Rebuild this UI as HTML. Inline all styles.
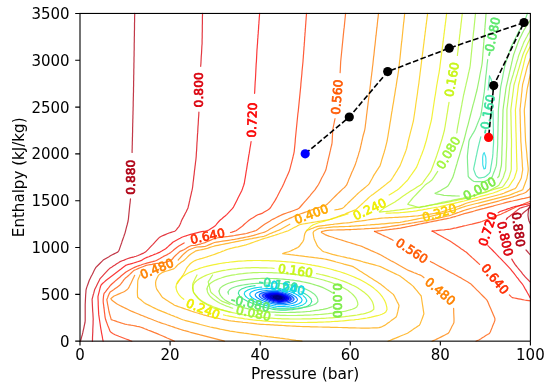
<!DOCTYPE html>
<html><head><meta charset="utf-8"><style>html,body{margin:0;padding:0;background:#fff;}svg{display:block;}</style></head>
<body><svg width="550" height="388" viewBox="0 0 550 388">
<rect width="550" height="388" fill="#fff"/>
<defs><radialGradient id="bc" cx="0.5" cy="0.5" r="0.5"><stop offset="0" stop-color="#0000a8"/><stop offset="0.55" stop-color="#0008e8"/><stop offset="1" stop-color="#0030ff" stop-opacity="0"/></radialGradient></defs>
<ellipse cx="277" cy="296.8" rx="19" ry="5.6" fill="url(#bc)" transform="rotate(7 277 296.8)"/>
<g fill="none" stroke-width="1.2" stroke-opacity="0.78" stroke-linejoin="round" stroke-linecap="round">
<path d="M134.7,13.3 L134.7,15.3 L134.6,17.3 L134.6,19.4 L134.6,21.4 L134.5,23.4 L134.5,25.4 L134.5,27.4 L134.5,29.5 L134.4,31.5 L134.4,33.5 L134.4,35.5 L134.3,37.5 L134.3,39.6 L134.3,41.6 L134.2,43.6 L134.2,45.6 L134.2,47.6 L134.2,49.7 L134.1,51.7 L134.1,53.7 L134.1,55.7 L134.0,57.7 L134.0,59.8 L134.0,61.8 L133.9,63.8 L133.9,65.8 L133.9,67.8 L133.8,69.8 L133.8,71.8 L133.8,73.9 L133.7,75.9 L133.7,77.9 L133.7,79.9 L133.6,81.9 L133.6,83.9 L133.6,86.0 L133.5,88.0 L133.5,90.0 L133.5,92.0 L133.4,94.0 L133.4,96.0 L133.3,98.0 L133.3,100.0 L133.2,102.0 L133.2,104.0 L133.2,106.0 L133.1,108.0 L133.1,110.0 L133.0,112.0 L133.0,114.0 L132.9,116.0 L132.9,118.0 L132.8,120.0 L132.8,122.0 L132.7,124.0 L132.7,126.0 L132.6,128.0 L132.6,130.0 L132.6,132.0 L132.5,134.1 L132.5,136.1 L132.4,138.1 L132.4,140.2 L132.3,142.2 L132.3,144.3 L132.2,146.3 L132.2,148.3 L132.1,150.4 L132.1,152.4" stroke="#af0014"/>
<path d="M130.5,198.8 L130.3,200.8 L130.1,202.8 L129.8,204.9 L129.6,206.9 L129.4,208.9 L129.2,210.9 L129.0,212.9 L128.8,214.9 L128.6,217.0 L128.4,219.0 L128.1,221.0 L127.6,223.0 L127.1,225.0 L126.5,227.1 L126.0,229.1 L125.5,231.1 L125.0,233.1 L124.3,235.0 L123.7,236.9 L123.0,238.8 L122.3,240.7 L121.7,242.7 L121.0,244.6 L120.3,246.6 L119.6,248.6 L118.9,250.6 L117.7,252.1 L115.9,253.0 L114.1,253.9 L112.3,254.8 L110.4,255.8 L108.6,256.9 L106.8,257.9 L105.0,259.0 L103.2,260.1 L101.7,261.6 L100.3,263.0 L98.8,264.5 L97.3,266.0 L95.9,267.4 L94.8,269.2 L93.9,271.0 L93.0,272.9 L92.1,274.7 L91.1,276.5 L90.2,278.4 L89.3,280.2 L88.6,282.2 L87.9,284.2 L87.2,286.1 L86.5,288.1 L86.0,290.1 L85.9,292.2 L85.7,294.2 L85.6,296.3 L85.5,298.3 L85.4,300.4 L85.3,302.5 L85.2,304.5 L85.2,306.5 L85.2,308.5 L85.2,310.5 L85.2,312.5 L85.2,314.5 L85.2,316.5 L85.2,318.5 L85.2,320.5 L85.0,322.5 L84.5,324.6 L84.1,326.6 L83.7,328.6 L83.2,330.7 L82.8,332.7 L82.3,334.7 L81.7,336.6 L81.2,338.6 L80.7,340.5 L80.4,341.5" stroke="#af0014"/>
<path d="M202.5,13.3 L202.5,15.3 L202.4,17.4 L202.4,19.4 L202.4,21.4 L202.4,23.4 L202.3,25.5 L202.3,27.5 L202.3,29.5 L202.3,31.5 L202.2,33.6 L202.2,35.6 L202.2,37.6 L202.1,39.7 L202.1,41.7 L202.1,43.7 L201.9,45.7 L201.8,47.7 L201.7,49.7 L201.6,51.7 L201.5,53.7 L201.3,55.8 L201.2,57.8 L201.1,59.8 L201.0,61.8 L200.9,63.8 L200.7,65.8 L200.7,66.3" stroke="#da000c"/>
<path d="M198.9,112.2 L198.8,114.2 L198.7,116.2 L198.5,118.3 L198.4,120.3 L198.3,122.3 L198.2,124.3 L198.0,126.4 L197.9,128.4 L197.8,130.4 L197.7,132.4 L197.5,134.4 L197.4,136.5 L197.3,138.5 L197.2,140.5 L197.0,142.5 L196.9,144.5 L196.8,146.5 L196.7,148.5 L196.6,150.5 L196.4,152.5 L196.3,154.5 L196.2,156.5 L196.0,158.5 L195.8,160.5 L195.5,162.5 L195.3,164.6 L195.0,166.6 L194.8,168.6 L194.5,170.6 L194.3,172.6 L194.1,174.6 L193.8,176.6 L193.6,178.6 L193.4,180.5 L193.1,182.5 L192.9,184.5 L192.7,186.5 L192.4,188.5 L192.0,190.4 L191.5,192.4 L191.1,194.3 L190.6,196.3 L190.2,198.2 L189.8,200.2 L189.3,202.1 L188.9,204.1 L188.4,206.0 L188.0,208.0 L187.1,209.8 L186.2,211.7 L185.2,213.5 L184.3,215.4 L183.3,217.2 L182.3,219.1 L181.4,221.0 L180.7,222.9 L179.9,224.8 L178.9,226.6 L177.6,228.2 L176.3,229.8 L174.9,231.2 L173.0,231.8 L171.1,232.4 L169.1,233.0 L167.2,233.8 L165.3,234.6 L163.4,235.4 L161.4,236.2 L159.7,237.2 L158.2,238.7 L156.8,240.2 L155.4,241.7 L154.1,243.1 L152.7,244.6 L151.2,246.1 L149.8,247.6 L148.4,249.1 L146.9,250.6 L145.4,252.1 L143.6,253.1 L141.7,253.9 L139.9,254.7 L138.0,255.5 L136.1,256.2 L134.1,256.8 L132.0,257.3 L130.0,257.9 L128.0,258.5 L126.0,259.3 L124.1,260.1 L122.2,260.8 L120.2,261.6 L118.5,262.7 L116.7,263.8 L115.0,265.0 L113.3,266.1 L111.6,267.2 L109.8,268.3 L108.4,269.7 L107.0,271.2 L105.6,272.7 L104.2,274.2 L102.9,275.6 L101.5,277.1 L100.1,278.6 L99.2,280.4 L98.3,282.2 L97.4,284.1 L96.5,285.9 L95.6,287.7 L94.7,289.5 L94.2,291.4 L93.7,293.4 L93.1,295.3 L92.6,297.3 L92.1,299.2 L92.2,301.2 L92.3,303.2 L92.4,305.3 L92.5,307.3 L92.6,309.3 L92.7,311.3 L92.9,313.3 L93.0,315.4 L93.1,317.4 L93.2,319.4 L93.1,321.4 L93.1,323.4 L93.0,325.5 L92.9,327.5 L92.8,329.5 L92.8,331.6 L92.7,333.6 L92.6,335.6 L92.5,337.6 L92.5,339.7 L92.4,341.2" stroke="#da000c"/>
<path d="M259.6,13.3 L259.5,15.3 L259.3,17.3 L259.2,19.3 L259.0,21.3 L258.9,23.4 L258.7,25.4 L258.6,27.4 L258.5,29.4 L258.3,31.4 L258.2,33.4 L258.0,35.4 L257.9,37.4 L257.7,39.4 L257.6,41.5 L257.5,43.5 L257.3,45.5 L257.2,47.5 L257.0,49.5 L256.9,51.5 L256.8,53.5 L256.7,55.5 L256.6,57.6 L256.5,59.6 L256.4,61.6 L256.2,63.6 L256.1,65.6 L256.0,67.6 L255.9,69.6 L255.8,71.7 L255.7,73.7 L255.6,75.7 L255.5,77.7 L255.4,79.7 L255.2,81.7 L255.1,83.7 L255.0,85.7 L254.9,87.8 L254.8,89.8 L254.7,91.8 L254.6,93.3" stroke="#fa0000"/>
<path d="M251.1,141.5 L250.8,143.5 L250.5,145.5 L250.1,147.5 L249.8,149.5 L249.5,151.5 L249.2,153.4 L248.8,155.4 L248.5,157.4 L248.2,159.4 L247.9,161.4 L247.5,163.4 L247.2,165.4 L246.9,167.4 L246.6,169.4 L246.2,171.4 L245.9,173.3 L245.6,175.3 L245.3,177.3 L244.9,179.3 L244.6,181.3 L244.3,183.3 L243.7,185.2 L243.0,187.1 L242.4,189.0 L241.6,190.9 L240.7,192.7 L239.8,194.5 L238.9,196.3 L238.0,198.1 L237.1,199.9 L236.2,201.7 L235.3,203.5 L234.4,205.3 L233.5,207.1 L232.3,208.7 L230.9,210.2 L229.5,211.7 L228.1,213.2 L226.7,214.6 L225.1,216.0 L223.5,217.3 L221.9,218.7 L220.3,220.0 L218.8,221.5 L217.4,223.1 L216.0,224.8 L214.6,226.3 L212.8,227.4 L211.1,228.5 L209.3,229.7 L207.5,230.6 L205.5,231.0 L203.5,231.3 L201.5,231.7 L199.5,232.1 L197.6,232.6 L195.6,233.1 L193.7,233.6 L191.7,234.1 L189.8,234.6 L187.8,235.2 L185.9,235.9 L183.9,236.5 L181.9,237.2 L180.1,238.2 L178.2,239.2 L176.4,240.2 L174.6,241.2 L172.8,242.3 L171.3,243.7 L169.8,245.0 L168.3,246.4 L166.8,247.7 L165.3,249.1 L163.5,250.1 L161.8,251.1 L160.0,252.1 L158.2,252.9 L156.3,253.7 L154.4,254.4 L152.5,255.2 L150.7,255.9 L148.8,256.7 L146.9,257.4 L145.0,258.2 L143.2,259.3 L141.5,260.4 L139.5,261.1 L137.6,261.7 L135.6,262.4 L133.7,263.0 L131.7,263.6 L129.6,264.2 L127.5,264.7 L125.6,265.4 L123.9,266.7 L122.3,268.0 L120.7,269.3 L119.0,270.6 L117.4,271.8 L115.7,273.1 L114.1,274.3 L112.5,275.5 L110.8,276.8 L109.2,278.0 L107.5,279.3 L105.9,280.5 L104.4,281.9 L102.8,283.3 L101.3,284.7 L100.5,286.5 L100.0,288.4 L99.5,290.4 L99.0,292.4 L98.5,294.3 L98.0,296.3 L98.0,298.3 L98.1,300.3 L98.2,302.3 L98.2,304.3 L98.3,306.4 L98.4,308.4 L98.5,310.4 L98.6,312.4 L98.7,314.4 L99.0,316.4 L99.3,318.5 L99.6,320.5 L99.9,322.5 L100.2,324.5 L100.5,326.6 L100.8,328.6 L101.2,330.6 L101.5,332.6 L101.9,334.6 L102.3,336.7 L102.6,338.7 L103.0,340.7 L103.1,341.2" stroke="#fa0000"/>
<path d="M306.5,13.3 L306.4,15.3 L306.2,17.3 L306.1,19.3 L305.9,21.3 L305.8,23.3 L305.6,25.4 L305.5,27.4 L305.3,29.4 L305.2,31.4 L305.0,33.4 L304.9,35.4 L304.7,37.4 L304.6,39.4 L304.5,41.4 L304.3,43.4 L304.2,45.4 L304.0,47.4 L303.9,49.5 L303.7,51.5 L303.6,53.5 L303.4,55.5 L303.3,57.5 L303.1,59.5 L303.0,61.5 L302.8,63.5 L302.6,65.5 L302.4,67.5 L302.2,69.5 L302.0,71.5 L301.9,73.5 L301.7,75.5 L301.5,77.5 L301.3,79.6 L301.1,81.6 L300.9,83.6 L300.8,85.6 L300.6,87.6 L300.4,89.6 L300.2,91.6 L300.0,93.6 L299.8,95.6 L299.6,97.6 L299.4,99.6 L299.2,101.6 L299.0,103.6 L298.8,105.6 L298.6,107.6 L298.4,109.6 L298.2,111.6 L297.9,113.5 L297.7,115.5 L297.5,117.5 L297.3,119.5 L297.1,121.5 L296.9,123.5 L296.7,125.5 L296.5,127.5 L296.3,129.5 L296.1,131.5 L295.9,133.5 L295.7,135.5 L295.5,137.5 L295.3,139.5 L295.2,141.6 L295.0,143.6 L294.8,145.6 L294.6,147.6 L294.4,149.6 L294.2,151.6 L293.8,153.6 L293.3,155.5 L292.9,157.5 L292.4,159.4 L291.9,161.3 L291.4,163.3 L290.9,165.2 L290.4,167.2 L289.9,169.1 L289.3,171.0 L288.5,172.9 L287.7,174.7 L286.9,176.6 L286.0,178.5 L285.2,180.3 L284.4,182.2 L283.6,184.0 L282.7,185.9 L281.8,187.7 L280.8,189.5 L279.9,191.3 L278.9,193.2 L278.0,195.0 L277.1,196.8 L276.1,198.6 L275.1,200.4 L274.0,202.2 L272.8,204.0 L271.7,205.7 L270.6,207.5 L269.2,209.1 L267.4,210.2 L265.6,211.2 L263.8,212.3 L262.0,213.4 L259.9,214.1 L257.8,214.8 L256.0,215.8 L254.2,216.9 L252.5,218.0 L250.7,219.1 L249.0,220.2 L247.4,221.6 L245.9,222.9 L244.3,224.3 L242.8,225.7 L241.2,227.1 L239.5,228.3 L237.8,229.5 L236.0,230.7 L234.1,231.4 L232.0,232.1 L230.5,232.5" stroke="#ff2d00"/>
<path d="M184.1,242.9 L182.3,244.0 L180.6,245.0 L178.8,246.1 L177.1,247.2 L175.5,248.5 L173.9,249.8 L172.4,251.1 L170.8,252.4 L169.1,253.6 L167.3,254.6 L165.4,255.5 L163.5,256.4 L161.7,257.4 L160.0,258.5 L158.2,259.5 L156.4,260.5 L154.5,261.2 L152.6,261.7 L150.7,262.1 L148.7,262.6 L146.8,263.1 L144.8,263.7 L142.9,264.3 L140.9,265.0 L139.0,265.6 L137.1,266.3 L135.1,267.1 L133.2,268.0 L131.3,269.0 L129.5,270.0 L127.7,271.0 L126.0,272.0 L124.4,273.3 L122.9,274.5 L121.3,275.8 L119.8,277.2 L118.2,278.5 L116.7,279.8 L115.1,281.1 L113.6,282.5 L112.1,283.8 L110.6,285.2 L109.3,286.8 L108.0,288.5 L106.7,290.1 L105.4,291.8 L104.1,293.4 L103.6,295.4 L103.4,297.5 L103.2,299.6 L103.2,301.7 L103.4,303.7 L103.7,305.7 L103.9,307.7 L104.2,309.7 L104.4,311.8 L104.7,313.8 L104.9,315.8 L105.2,317.8 L105.7,319.8 L106.4,321.7 L107.1,323.6 L107.8,325.5 L108.6,327.4 L109.3,329.2 L110.0,331.2 L111.3,332.6 L113.2,333.7 L115.1,334.7 L117.0,335.5 L118.9,336.3 L120.8,337.0 L122.7,337.7 L124.7,338.5 L126.6,339.2 L128.5,339.9 L130.4,340.7 L131.8,341.2" stroke="#ff2d00"/>
<path d="M345.6,13.3 L345.4,15.3 L345.2,17.3 L345.0,19.3 L344.8,21.3 L344.6,23.3 L344.4,25.4 L344.2,27.4 L343.9,29.4 L343.7,31.4 L343.5,33.4 L343.3,35.4 L343.1,37.4 L342.9,39.4 L342.7,41.4 L342.5,43.4 L342.3,45.4 L342.1,47.4 L341.9,49.5 L341.7,51.5 L341.5,53.5 L341.3,55.5 L341.1,57.5 L340.9,59.5 L340.7,61.5 L340.6,63.5 L340.5,65.5 L340.4,67.6 L340.3,69.6 L340.2,71.6 L340.1,72.6" stroke="#ff5800"/>
<path d="M335.0,118.6 L334.6,120.6 L334.2,122.6 L333.8,124.5 L333.4,126.5 L333.0,128.5 L332.7,130.5 L332.6,132.5 L332.5,134.5 L332.4,136.5 L332.3,138.5 L332.2,140.5 L332.1,142.5 L331.8,144.5 L331.3,146.4 L330.8,148.4 L330.4,150.4 L329.9,152.4 L329.5,154.3 L329.0,156.3 L328.5,158.3 L328.1,160.2 L327.6,162.2 L327.2,164.2 L326.7,166.2 L326.3,168.1 L325.8,170.1 L324.9,171.9 L324.0,173.7 L323.1,175.5 L322.1,177.3 L321.2,179.1 L320.3,180.9 L319.4,182.7 L318.5,184.5 L317.4,186.2 L316.2,187.9 L315.1,189.6 L313.8,191.2 L312.5,192.7 L311.2,194.2 L309.9,195.8 L308.6,197.3 L307.3,198.8 L306.0,200.4 L304.6,201.9 L303.3,203.4 L301.9,205.0 L300.6,206.5 L299.3,208.0 L297.6,209.1 L295.7,209.8 L293.8,210.5 L291.8,211.2 L289.9,211.9 L287.9,212.5 L286.0,213.2 L284.1,213.9 L282.2,214.6 L280.4,215.5 L278.6,216.4 L276.8,217.3 L275.0,218.2 L273.2,219.1 L271.4,220.1 L269.7,221.2 L268.0,222.2 L266.3,223.2 L264.6,224.3 L262.9,225.5 L261.2,226.8 L259.6,228.0 L257.9,229.3 L256.2,230.5 L254.2,231.1 L252.3,231.7 L250.3,232.3 L248.4,232.9 L246.4,233.5 L244.4,233.8 L242.4,234.2 L240.4,234.5 L238.4,234.8 L236.5,235.1 L234.5,235.5 L232.5,235.8 L230.5,236.1 L228.5,236.4 L226.5,236.6 L224.5,236.9 L222.5,237.2 L220.5,237.5 L218.5,237.7 L216.5,238.0 L214.5,238.4 L212.6,239.2 L210.7,240.1 L208.8,240.9 L206.9,241.8 L205.0,242.6 L203.0,243.2 L201.0,243.8 L199.0,244.3 L197.0,244.9 L195.0,245.3 L193.0,245.5 L191.0,245.7 L189.2,246.5 L187.4,247.6 L185.6,248.8 L183.8,249.8 L181.9,250.6 L180.0,251.4 L178.5,252.8 L177.0,254.1 L175.5,255.5 L174.1,256.9 L172.8,258.5 L171.5,260.0 L169.8,260.9 L167.9,261.5 L166.0,262.2 L164.0,262.6 L162.0,262.8 L160.0,263.1 L158.0,263.3 L156.0,263.5 L154.0,263.9 L152.0,264.3 L150.1,264.6 L148.1,265.0 L146.1,265.4 L144.1,266.2 L142.1,267.0 L140.1,267.8 L138.1,268.6 L136.2,269.5 L134.2,270.3 L132.6,271.6 L131.2,273.0 L129.8,274.4 L128.3,275.7 L126.8,277.0 L125.2,278.3 L123.8,279.9 L122.6,281.6 L121.3,283.3 L120.0,285.0 L118.4,286.2 L116.8,287.4 L115.2,288.6 L113.6,289.8 L111.8,290.9 L110.1,292.1 L109.1,293.9 L108.3,295.8 L107.6,297.8 L106.8,299.7 L107.2,301.7 L107.5,303.6 L107.9,305.6 L108.3,307.6 L108.6,309.5 L109.0,311.5 L109.5,313.5 L110.1,315.6 L110.7,317.6 L111.2,319.6 L113.2,320.3 L115.1,320.9 L117.1,321.6 L119.0,322.2 L121.0,322.9 L122.9,323.5 L124.9,324.1 L126.9,324.5 L128.9,324.8 L130.9,325.2 L133.0,325.5 L135.0,325.9 L137.0,326.3 L139.0,326.6 L140.9,327.2 L142.8,327.9 L144.7,328.7 L146.5,329.4 L148.4,330.2 L150.3,330.9 L152.2,331.6 L154.0,332.4 L155.9,333.1 L157.8,333.9 L159.6,334.7 L161.5,335.5 L163.3,336.3 L165.2,337.1 L167.1,338.0 L168.9,338.8 L170.8,339.6 L172.6,340.4 L174.5,341.2" stroke="#ff5800"/>
<path d="M378.5,13.3 L378.3,15.3 L378.1,17.3 L377.8,19.3 L377.6,21.3 L377.4,23.2 L377.2,25.2 L377.0,27.2 L376.7,29.2 L376.5,31.2 L376.3,33.2 L376.1,35.2 L375.8,37.2 L375.6,39.2 L375.4,41.2 L375.2,43.1 L375.0,45.1 L374.7,47.1 L374.5,49.1 L374.3,51.1 L374.1,53.1 L373.9,55.1 L373.6,57.1 L373.4,59.1 L373.2,61.0 L373.0,63.0 L372.8,65.0 L372.5,67.0 L372.3,69.0 L372.1,71.0 L371.8,73.0 L371.6,75.0 L371.3,77.0 L371.1,79.0 L370.8,81.0 L370.6,83.0 L370.4,85.0 L370.1,87.0 L369.9,89.0 L369.6,91.0 L369.4,93.0 L369.1,95.0 L368.9,97.0 L368.6,99.0 L368.4,101.0 L368.1,103.0 L367.9,105.0 L367.6,107.0 L367.4,109.0 L367.1,111.0 L366.9,113.0 L366.6,115.0 L366.4,117.0 L366.2,119.0 L365.9,121.0 L365.7,123.0 L365.4,125.0 L365.2,127.0 L364.9,129.0 L364.5,131.0 L363.9,133.0 L363.3,135.0 L362.8,137.0 L362.4,139.0 L361.9,141.0 L361.5,143.0 L361.0,145.0 L360.6,147.0 L360.1,149.0 L359.6,151.0 L358.9,152.9 L358.4,154.9 L357.8,156.8 L357.1,158.7 L356.6,160.7 L355.9,162.6 L355.3,164.6 L354.5,166.5 L353.7,168.3 L352.9,170.2 L352.0,172.1 L351.2,174.0 L350.4,175.9 L349.6,177.7 L348.8,179.6 L348.1,181.5 L347.3,183.4 L346.5,185.2 L345.2,186.7 L343.7,188.1 L342.2,189.4 L340.8,190.8 L339.3,192.2 L337.8,193.6 L336.4,195.0 L334.9,196.5 L333.5,197.9 L332.0,199.4 L330.6,200.8 L329.1,202.3 L327.7,203.7 L326.1,205.0 L324.2,205.6 L322.2,206.3 L320.3,207.0 L318.3,207.6 L316.4,208.3 L314.4,209.0 L312.5,209.6 L310.5,210.3 L308.6,211.0 L306.7,211.7 L304.7,212.4 L302.8,213.1 L300.8,213.8 L298.9,214.5 L297.0,215.2 L295.1,215.9 L293.2,216.8 L291.4,217.6 L289.5,218.4 L287.7,219.3 L285.8,220.1 L284.0,221.0 L282.2,221.9 L280.5,222.9 L278.7,223.9 L277.0,225.0 L275.3,226.0 L273.6,227.0 L271.8,228.1 L270.0,229.1 L268.2,230.2 L266.4,231.2 L264.5,232.1 L262.5,232.7 L260.5,233.3 L258.5,233.9 L256.6,234.5 L254.6,235.1 L252.6,235.7 L250.6,236.2 L248.6,236.6 L246.6,237.0 L244.6,237.4 L242.6,237.8 L240.6,238.2 L238.6,238.6 L236.6,239.0 L234.6,239.4 L232.6,239.7 L230.6,240.0 L228.6,240.3 L226.6,240.6 L224.5,240.9 L222.5,241.2 L220.5,241.5 L218.5,241.8 L216.5,242.1 L214.5,242.5 L212.6,243.3 L210.7,244.1 L208.8,244.9 L206.9,245.7 L205.0,246.5 L203.0,246.6 L201.0,246.8 L199.0,246.9 L197.0,247.0 L195.0,247.5 L193.0,248.3 L191.1,249.0 L189.1,249.8 L187.3,250.9 L185.8,252.2 L184.3,253.5 L182.8,254.9 L181.3,256.5 L179.9,258.1 L178.5,259.7 L178.2,260.1" stroke="#ff8200"/>
<path d="M404.7,13.3 L404.5,15.3 L404.3,17.3 L404.1,19.3 L403.9,21.3 L403.6,23.2 L403.4,25.2 L403.2,27.2 L403.0,29.2 L402.8,31.2 L402.6,33.2 L402.4,35.2 L402.2,37.2 L402.0,39.2 L401.8,41.2 L401.5,43.1 L401.3,45.1 L401.1,47.1 L400.9,49.1 L400.7,51.1 L400.5,53.1 L400.3,55.1 L400.1,57.1 L399.9,59.1 L399.6,61.0 L399.4,63.0 L399.2,65.0 L399.0,67.0 L398.8,69.0 L398.5,71.0 L398.2,73.0 L397.9,75.0 L397.6,77.0 L397.2,78.9 L396.9,80.9 L396.6,82.9 L396.3,84.9 L396.0,86.9 L395.6,88.9 L395.3,90.9 L395.0,92.8 L394.7,94.8 L394.3,96.8 L394.0,98.8 L393.7,100.8 L393.4,102.8 L393.0,104.8 L392.7,106.7 L392.4,108.7 L392.1,110.7 L391.7,112.7 L391.4,114.7 L391.1,116.7 L390.8,118.7 L390.5,120.6 L390.1,122.6 L389.8,124.6 L389.5,126.6 L389.2,128.6 L388.8,130.6 L388.5,132.6 L388.2,134.5 L387.9,136.5 L387.5,138.5 L387.2,140.5 L386.7,142.6 L386.2,144.6 L385.7,146.7 L385.2,148.7 L384.6,150.6 L384.1,152.5 L383.5,154.4 L382.9,156.3 L382.3,158.2 L381.7,160.2 L381.2,162.1 L380.6,164.0 L380.0,165.9 L378.8,167.6 L377.7,169.4 L376.5,171.1 L375.4,172.9 L374.2,174.6 L373.2,176.4 L372.3,178.2 L371.3,180.0 L370.3,181.8 L369.3,183.6 L367.9,185.1 L366.4,186.4 L364.8,187.7 L363.3,189.0 L361.7,190.3 L360.1,191.6 L358.6,192.9 L357.1,194.3 L355.7,195.7 L354.2,197.1 L352.8,198.5 L351.3,199.9 L349.9,201.3 L348.4,202.7 L347.0,204.1 L345.5,205.5 L344.0,207.1 L342.4,208.4 L340.3,208.8 L338.3,209.3 L336.2,209.7 L334.7,210.0" stroke="#ffa800"/>
<path d="M289.8,224.2 L288.0,225.2 L286.2,226.2 L284.4,227.2 L282.6,228.2 L280.8,229.2 L279.0,230.1 L277.2,230.8 L275.3,231.6 L273.4,232.3 L271.5,233.1 L269.7,233.8 L267.8,234.7 L265.9,235.6 L264.0,236.3 L262.0,236.7 L260.0,237.0 L258.0,237.4 L256.0,237.8 L253.9,238.2 L251.9,238.6 L249.9,238.9 L247.9,239.3 L245.9,239.7 L243.9,240.1 L241.9,240.5 L239.9,240.9 L238.0,241.3 L236.0,241.7 L234.0,242.1 L232.0,242.5 L230.0,242.9 L228.0,243.3 L226.0,243.7 L224.0,244.1 L222.0,244.5 L220.0,244.9 L218.0,245.3 L216.0,245.7 L214.0,246.2 L212.0,246.8 L210.0,247.4 L208.0,248.1 L206.0,248.7 L204.0,249.2 L202.0,249.6 L200.0,250.0 L198.0,250.4 L196.0,250.8 L194.2,251.9 L192.4,253.1 L190.6,254.2 L189.0,255.5 L187.6,256.9 L186.2,258.3 L184.8,259.7 L183.2,261.0 L181.5,262.1 L179.9,263.3 L178.2,264.4 L176.7,266.0 L175.3,267.6 L173.7,268.9 L171.7,269.5 L169.7,270.1 L167.8,270.7 L165.8,271.3 L163.8,271.9 L161.9,272.8 L160.1,273.9 L158.5,275.2 L157.6,277.0 L156.7,278.8 L155.9,280.7 L155.6,282.9 L155.7,285.1 L156.1,287.2 L156.7,289.2 L157.9,290.9 L159.0,292.5 L160.2,294.2 L161.3,295.8 L162.5,297.5 L164.2,298.6 L165.9,299.7 L167.6,300.8 L169.4,301.9 L171.1,303.0 L172.8,304.1 L174.5,305.2 L176.4,305.9 L178.3,306.6 L180.3,307.2 L182.2,307.9 L184.1,308.6 L186.0,309.3 L188.0,309.9 L189.9,310.6 L191.8,311.3 L193.7,311.9 L195.6,312.5 L197.6,313.0 L199.5,313.6 L201.4,314.2 L203.3,314.8 L205.3,315.3 L207.2,315.9 L209.1,316.5 L211.1,316.9 L213.1,317.3 L215.1,317.7 L217.1,318.1 L219.1,318.5 L221.0,319.0 L223.0,319.4 L225.0,319.8 L227.0,320.2 L229.0,320.6 L231.0,320.9 L233.0,321.1 L235.0,321.4 L237.0,321.6 L239.0,321.8 L241.0,322.0 L243.0,322.3 L245.0,322.5 L247.0,322.7 L249.0,323.0 L251.0,323.2 L253.0,323.4 L255.0,323.6 L257.0,323.9 L259.0,324.1 L261.0,324.3 L263.0,324.4 L265.0,324.5 L267.0,324.6 L269.0,324.7 L271.0,324.8 L273.0,324.9 L275.0,325.1 L277.0,325.2 L279.0,325.3 L281.0,325.4 L283.0,325.5 L285.0,325.6 L287.0,325.8 L289.0,325.9 L291.0,326.0 L293.0,326.1 L295.0,326.2 L297.0,326.3 L299.0,326.4 L301.0,326.5 L303.0,326.6 L305.0,326.6 L307.0,326.7 L309.0,326.7 L311.0,326.8 L313.0,326.8 L315.0,326.9 L317.0,326.9 L319.0,327.0 L321.0,327.0 L323.0,327.1 L325.0,327.1 L327.0,327.2 L329.0,327.2 L331.0,327.3 L333.0,327.3 L335.0,327.4 L337.0,327.4 L339.0,327.5 L341.0,327.5 L343.0,327.6 L345.0,327.6 L347.0,327.7 L349.0,327.8 L351.0,327.8 L353.0,327.9 L355.0,327.9 L357.0,328.0 L359.0,328.0 L361.0,328.1 L363.0,328.1 L365.0,328.2 L367.0,328.1 L369.0,328.1 L371.0,328.0 L373.0,327.9 L375.0,327.9 L377.0,327.8 L379.0,327.7 L380.9,327.2 L382.8,326.3 L384.6,325.4 L386.3,324.3 L387.9,323.1 L389.6,321.9 L391.2,320.6 L392.8,319.4 L394.5,318.2 L396.1,317.0 L396.9,315.2 L397.4,313.2 L397.9,311.2 L398.3,309.2 L398.8,307.2 L399.0,305.2 L398.1,303.4 L397.1,301.6 L396.2,299.7 L395.3,297.9 L394.4,296.1 L393.3,294.4 L391.7,293.1 L390.2,291.9 L388.6,290.6 L387.0,289.4 L385.5,288.1 L383.9,286.8 L382.3,285.6 L380.8,284.3 L379.1,283.2 L377.4,282.1 L375.7,281.0 L374.0,279.9 L372.3,278.8 L370.6,277.8 L368.9,276.7 L367.2,275.6 L365.5,274.5 L363.8,273.4 L362.1,272.3 L360.4,271.3 L358.7,270.2 L357.0,269.1 L355.3,268.0 L353.6,266.9 L351.7,266.1 L349.8,265.6 L347.8,265.1 L345.9,264.6 L344.0,264.1 L342.0,263.5 L340.1,263.0 L338.1,262.5 L336.2,262.0 L334.2,261.4 L332.3,260.9 L330.4,260.4 L328.4,259.9 L326.5,259.4 L324.5,259.0 L322.5,258.7 L320.5,258.4 L318.6,258.2 L316.6,257.9 L314.6,257.7 L312.6,257.4 L310.6,257.1 L308.6,256.9 L306.6,256.6 L304.7,256.4 L302.7,256.1 L300.7,255.8 L298.7,255.6 L296.7,255.3 L294.7,255.1 L292.7,254.8 L290.7,254.6 L288.7,254.3 L286.7,254.1 L284.7,253.8 L282.7,253.6 L284.6,252.9 L286.6,252.3 L288.6,251.7 L290.5,251.0 L292.3,250.1 L294.1,249.3 L296.0,248.4 L297.8,247.5 L299.3,246.3 L300.5,244.6 L301.8,243.0 L303.0,241.3 L303.8,239.5 L304.1,237.5 L304.4,235.5 L304.9,233.5 L305.9,231.6 L307.3,230.3 L309.2,229.6 L311.1,228.8 L313.0,228.1 L314.9,227.3 L316.8,226.6 L318.8,226.2 L320.9,225.9 L322.9,225.6 L324.9,225.4 L327.0,225.1 L329.0,224.8 L331.1,224.5 L333.1,224.3 L335.1,224.0 L337.2,223.8 L339.2,223.6 L341.3,223.4 L343.3,223.2 L345.4,223.0 L347.4,222.8 L349.5,222.6 L351.5,222.3 L353.5,222.0 L355.5,221.7 L357.5,221.4 L359.5,221.1 L361.5,220.9 L363.5,220.6 L365.5,220.3 L367.5,220.0 L369.5,219.7 L371.5,219.4 L373.5,219.1 L375.5,218.8 L377.5,218.6 L379.5,218.3 L381.5,218.1 L383.5,218.0 L385.5,217.9 L387.5,217.8 L389.5,217.7 L391.5,217.6 L393.5,217.5 L395.5,217.4 L397.5,217.3 L399.5,217.2 L401.5,217.1 L403.6,216.9 L405.6,216.8 L407.6,216.6 L409.7,216.5 L411.7,216.3 L413.7,216.1 L415.8,216.0 L417.8,215.8 L419.8,215.5 L421.8,215.2 L423.8,214.9 L425.8,214.6 L427.8,214.3 L429.8,214.1 L431.8,213.8 L433.8,213.5 L435.8,213.2 L437.8,212.9 L439.8,212.5 L441.7,211.9 L443.7,211.2 L445.6,210.6 L447.5,210.0 L449.5,209.3 L451.4,208.7 L453.3,208.0 L455.3,207.4 L457.2,206.7 L459.1,206.1 L461.1,205.4 L463.1,204.6 L465.0,203.7 L467.0,203.0 L468.9,202.5 L470.8,202.0 L472.8,201.5 L474.7,201.0 L476.7,200.5 L478.6,200.0 L480.5,199.5 L482.5,199.0 L484.4,198.5 L486.4,198.0 L488.3,197.5 L490.2,197.0 L492.2,196.5 L494.1,196.0 L496.1,195.5 L498.0,195.0 L499.9,194.5 L501.9,193.9 L503.8,193.2 L505.7,192.4 L507.6,191.6 L509.4,190.9 L511.3,190.1 L513.2,189.3 L515.1,188.6 L516.4,187.1 L517.4,185.2 L518.4,183.4 L519.4,181.7 L520.4,179.8 L521.3,178.0 L521.6,176.0 L522.0,174.0 L522.3,172.0 L522.7,170.0 L522.6,168.0 L522.4,166.0 L522.3,164.0 L522.2,162.0 L522.1,160.0 L521.9,158.0 L521.8,156.0 L521.7,154.0 L521.6,152.0 L521.4,150.0 L521.3,148.0 L521.2,146.0 L521.1,144.0 L520.9,142.0 L520.8,140.0 L520.8,138.5 L520.7,136.5 L520.7,134.5 L520.6,132.5 L520.5,130.5 L520.5,128.5 L520.4,126.5 L520.4,124.5 L520.3,122.5 L520.3,120.5 L520.2,118.5 L520.2,116.5 L520.1,114.5 L520.1,112.5 L520.0,110.5 L520.1,108.5 L520.4,106.5 L520.5,104.5 L520.8,102.5 L521.0,100.5 L521.1,98.5 L521.4,96.5 L521.5,94.5 L521.8,92.5 L522.0,90.5 L522.1,88.5 L522.4,86.5 L522.6,84.5 L523.1,82.6 L523.7,80.6 L524.2,78.7 L524.7,76.7 L525.2,74.8 L525.7,72.8 L526.2,70.9 L526.7,68.9 L527.2,67.0 L527.8,65.1 L528.5,63.2 L529.2,61.3 L529.9,59.4 L530.4,58.0" stroke="#ffa800"/>
<path d="M134.7,275.3 L133.8,277.2 L132.9,279.1 L132.0,281.0 L131.1,282.9 L130.2,284.7 L129.3,286.6 L128.3,288.4 L126.9,289.8 L125.2,291.0 L123.5,292.0 L121.6,292.8 L119.7,293.6 L117.8,294.4 L116.0,295.2 L114.1,296.0 L112.5,297.3 L110.8,298.7 L111.7,300.0 L113.3,301.2 L115.0,302.5 L116.7,303.8 L118.5,304.8 L120.3,305.7 L122.1,306.6 L123.9,307.5 L125.7,308.4 L127.6,309.3 L129.4,310.2 L131.3,311.1 L133.2,311.9 L135.2,312.7 L137.1,313.5 L139.0,314.3 L140.9,315.1 L142.8,315.8 L144.7,316.6 L146.5,317.3 L148.4,318.1 L150.3,318.8 L152.2,319.5 L154.0,320.3 L155.9,321.0 L157.8,321.8 L159.7,322.4 L161.6,323.1 L163.5,323.7 L165.5,324.3 L167.4,325.0 L169.3,325.6 L171.2,326.3 L173.1,326.9 L175.0,327.6 L177.0,328.2 L178.9,328.9 L180.8,329.5 L182.7,330.1 L184.7,330.7 L186.6,331.2 L188.6,331.7 L190.5,332.3 L192.5,332.8 L194.4,333.3 L196.4,333.8 L198.3,334.3 L200.3,334.9 L202.3,335.4 L204.2,335.9 L206.2,336.4 L208.1,336.9 L210.1,337.4 L212.0,337.9 L213.9,338.4 L215.9,338.9 L217.8,339.4 L219.8,339.9 L221.7,340.4 L223.6,340.9 L224.6,341.2" stroke="#ff8200"/>
<path d="M140.1,274.7 L139.3,276.7 L138.4,278.7 L137.8,280.7 L137.7,282.8 L137.6,284.8 L137.6,286.9 L137.5,288.9 L137.4,291.0 L137.4,293.0 L137.5,295.0 L137.6,297.0 L139.0,298.5 L140.8,299.8 L142.3,301.1 L143.8,302.4 L145.5,303.6 L147.3,304.5 L149.1,305.4 L150.9,306.3 L152.7,307.2 L154.6,308.1 L156.4,309.0 L158.2,309.9 L160.1,310.6 L162.0,311.4 L163.9,312.1 L165.8,312.9 L167.7,313.7 L169.5,314.4 L171.4,315.2 L173.3,315.9 L175.2,316.7 L177.1,317.4 L179.0,318.2 L180.8,319.0 L182.7,319.7 L184.7,320.3 L186.6,320.8 L188.6,321.3 L190.5,321.9 L192.5,322.4 L194.4,322.9 L196.4,323.4 L198.3,323.9 L200.3,324.5 L202.3,325.0 L204.2,325.5 L206.2,326.0 L208.1,326.5 L210.1,327.0 L212.1,327.4 L214.1,327.8 L216.1,328.2 L218.1,328.6 L220.0,329.1 L222.0,329.5 L224.0,329.9 L226.0,330.3 L228.0,330.7 L230.0,331.1 L232.0,331.4 L234.0,331.7 L236.0,332.0 L238.0,332.3 L240.0,332.6 L242.0,332.9 L244.0,333.2 L246.0,333.4 L248.0,333.7 L250.0,334.0 L252.0,334.3 L254.0,334.6 L256.0,334.9 L258.0,335.2 L260.0,335.5 L262.0,335.8 L264.0,336.0 L266.0,336.3 L268.0,336.6 L270.0,336.8 L272.0,337.1 L274.0,337.4 L276.0,337.6 L278.0,337.9 L280.0,338.2 L282.0,338.4 L284.0,338.7 L286.0,339.0 L288.0,339.2 L290.0,339.5 L292.0,339.8 L294.0,340.1 L296.0,340.4 L298.0,340.6 L300.0,340.9 L302.0,341.2" stroke="#ffa800"/>
<path d="M427.6,13.3 L427.4,15.3 L427.1,17.3 L426.9,19.3 L426.6,21.3 L426.4,23.2 L426.1,25.2 L425.9,27.2 L425.6,29.2 L425.4,31.2 L425.1,33.2 L424.9,35.2 L424.6,37.2 L424.4,39.2 L424.1,41.2 L423.9,43.1 L423.6,45.1 L423.4,47.1 L423.1,49.1 L422.9,51.1 L422.6,53.1 L422.4,55.1 L422.1,57.1 L421.9,59.1 L421.6,61.0 L421.4,63.0 L421.1,65.0 L420.9,67.0 L420.6,69.0 L420.4,71.0 L420.1,73.0 L419.9,75.0 L419.6,77.0 L419.4,79.0 L419.1,81.0 L418.9,83.0 L418.6,85.0 L418.3,87.0 L418.0,89.0 L417.7,91.0 L417.5,93.0 L417.2,95.0 L416.9,97.0 L416.6,99.0 L416.3,101.0 L416.0,103.0 L415.7,105.0 L415.5,107.0 L415.2,109.0 L414.9,111.0 L414.6,113.0 L414.3,115.0 L414.0,117.0 L413.7,119.0 L413.4,121.0 L412.9,122.9 L412.4,124.9 L411.9,126.8 L411.4,128.8 L410.9,130.7 L410.4,132.7 L409.9,134.6 L409.4,136.6 L408.9,138.5 L408.4,140.5 L407.9,142.5 L407.5,144.5 L407.1,146.5 L406.6,148.5 L406.0,150.4 L405.3,152.3 L404.6,154.2 L403.8,156.1 L403.1,157.9 L402.4,159.8 L401.6,161.7 L400.9,163.6 L400.2,165.4 L399.2,167.2 L398.1,168.9 L397.1,170.6 L396.0,172.3 L394.9,174.1 L393.8,175.8 L392.8,177.5 L391.7,179.2 L390.5,180.8 L388.9,182.1 L387.3,183.3 L385.7,184.6 L384.2,185.8 L382.6,187.1 L381.0,188.3 L379.4,189.6 L377.8,190.8 L376.1,192.0 L374.5,193.2 L372.9,194.4 L371.2,195.6 L369.6,196.9 L368.1,198.3 L366.6,199.7 L365.0,201.1 L363.5,202.6 L362.0,204.0 L360.5,205.4 L359.0,206.8 L357.5,208.1 L356.0,209.5 L354.1,210.3 L352.2,211.1 L350.3,211.8 L348.3,212.6 L346.4,213.4 L344.5,214.2 L342.6,214.9 L340.6,215.6 L338.7,216.3 L336.8,217.0 L334.8,217.7 L332.9,218.4 L331.0,219.1 L329.0,219.7 L327.0,220.0 L325.0,220.3 L323.0,220.7 L321.0,221.0 L319.0,221.3 L317.0,221.7 L315.0,222.0 L313.0,222.3 L311.0,222.7 L309.0,223.0 L307.0,223.3 L305.0,223.7 L303.0,224.0 L301.0,224.3 L299.1,225.0 L297.3,225.9 L295.5,226.9 L293.7,227.8 L291.9,228.8 L290.1,229.7 L288.3,230.7 L286.3,231.4 L284.4,232.0 L282.5,232.7 L280.5,233.3 L278.6,234.0 L276.7,234.6 L274.7,235.3 L272.8,235.9 L270.8,236.5 L268.9,237.1 L266.9,237.7 L264.9,238.3 L263.0,238.9 L261.1,239.5 L259.2,240.2 L257.3,240.9 L255.4,241.5 L253.5,242.2 L251.6,242.9 L249.7,243.6 L247.8,244.2 L245.9,244.9 L243.9,245.4 L241.9,245.8 L239.9,246.3 L237.9,246.8 L235.9,247.2 L233.9,247.7 L231.9,248.2 L229.9,248.6 L227.9,249.2 L226.0,249.9 L224.1,250.7 L222.2,251.4 L220.3,252.2 L218.3,252.9 L216.4,253.6 L214.5,254.4 L212.6,255.0 L210.7,255.6 L208.8,256.2 L206.9,256.9 L205.0,257.5 L203.0,258.1 L201.0,258.7 L199.0,259.2 L197.0,259.8 L195.1,260.6 L193.3,261.6 L191.5,262.7 L190.0,264.0 L188.7,265.6 L187.4,267.2 L186.3,268.9 L185.4,270.8 L184.4,272.7 L183.4,274.5 L182.3,276.2 L181.2,277.9 L180.0,279.5 L178.8,281.1 L177.7,282.8 L177.1,283.6" stroke="#fccd00"/>
<path d="M197.0,275.0 L196.1,276.8 L195.2,278.6 L194.3,280.4 L193.4,282.2 L192.7,284.1 L192.9,286.2 L193.1,288.2 L193.3,290.3 L193.5,292.3 L194.8,293.9 L196.0,295.4 L197.3,297.0 L198.6,298.6 L199.9,300.1 L201.4,301.4 L203.2,302.4 L205.0,303.5 L206.8,304.5 L208.6,305.5 L210.4,306.5 L212.2,307.5 L214.1,308.2 L216.1,308.7 L218.1,309.2 L220.1,309.6 L222.0,310.1 L224.0,310.6 L226.0,311.1 L228.0,311.6 L230.0,312.1" stroke="#c8f519"/>
<path d="M212.6,275.0 L211.5,276.7 L210.4,278.4 L209.3,280.2 L208.2,281.9 L208.7,283.9 L209.2,285.9 L209.7,287.8 L210.2,289.8 L210.7,291.8 L212.0,293.3 L213.6,294.6 L215.2,295.9 L216.8,297.3 L218.4,298.6 L220.0,299.9 L221.7,301.1 L223.6,301.9 L225.6,302.6 L227.6,303.4 L229.5,304.2 L230.0,304.4" stroke="#a0f53c"/>
<path d="M311.7,301.6 L310.4,304.1 L308.1,305.7 L306.1,306.7 L303.6,307.5 L300.9,308.2 L298.9,308.6 L296.8,309.0 L294.6,309.3 L292.4,309.6 L290.2,309.8 L288.0,309.9 L285.8,310.1 L283.7,310.1 L281.1,310.1 L278.5,310.0 L275.8,309.8 L273.4,309.4 L270.9,308.8 L268.7,308.3 L266.3,307.7 L263.9,307.1 L261.4,306.4 L258.9,305.6 L256.5,304.8 L254.1,303.9 L251.7,303.0 L249.5,302.1 L247.5,301.2 L245.6,300.2 L243.4,299.0 L241.3,297.5 L239.8,296.1 L238.3,293.3 L239.2,290.8 L241.4,289.1 L243.6,288.2 L246.2,287.3 L248.2,286.8 L250.4,286.4 L252.7,286.0 L255.1,285.6" stroke="#3ce2a0" stroke-opacity="1" stroke-width="1.1"/>
<path d="M301.0,291.7 L302.8,292.6 L305.3,294.0 L307.5,295.4 L309.2,296.8 L311.1,298.9 L311.7,301.6" stroke="#3ce2a0" stroke-opacity="1" stroke-width="1.1"/>
<path d="M306.7,301.0 L305.6,303.1 L302.8,304.9 L300.3,305.8 L298.0,306.5 L295.5,307.0 L292.8,307.5 L290.0,307.8 L287.2,308.0 L284.4,308.2 L281.8,308.2 L279.5,308.2 L276.7,308.0 L274.1,307.6 L271.5,307.0 L269.1,306.5 L267.1,305.9 L265.0,305.3 L262.8,304.7 L260.7,304.0 L258.7,303.3 L256.7,302.6 L254.7,301.8 L252.0,300.6 L249.7,299.4 L247.7,298.1 L245.5,296.3 L244.2,293.9 L245.0,291.8 L247.8,290.0 L249.8,289.2 L252.2,288.5 L255.0,287.9 L257.5,287.5 L259.6,287.3 L261.7,287.1" stroke="#0fd7e6" stroke-opacity="1" stroke-width="1.1"/>
<path d="M303.1,295.7 L305.7,298.1 L306.7,300.5 L306.7,301.0" stroke="#0fd7e6" stroke-opacity="1" stroke-width="1.1"/>
<path d="M302.0,300.5 L301.1,302.2 L298.8,303.7 L295.3,304.9 L293.2,305.4 L291.0,305.8 L288.7,306.1 L286.3,306.3 L284.0,306.4 L281.7,306.5 L278.8,306.5 L276.4,306.3 L273.7,305.7 L271.4,305.2 L268.8,304.6 L266.2,303.8 L263.5,303.0 L260.9,302.1 L258.5,301.1 L256.2,300.1 L254.3,299.1 L251.9,297.5 L250.0,295.5 L249.8,293.6 L251.3,291.9 L254.4,290.5 L256.4,290.0 L258.7,289.5 L261.2,289.1 L263.9,288.8 L266.7,288.6 L269.4,288.5 L272.1,288.4 L274.7,288.4 L276.9,288.5 L279.5,288.7 L282.8,289.4 L284.9,290.0 L287.1,290.6 L289.3,291.4 L291.5,292.2 L293.7,293.1 L295.7,294.0 L298.3,295.5 L300.8,297.5 L302.0,299.5 L302.0,300.5" stroke="#00c4ff" stroke-opacity="1" stroke-width="1.1"/>
<path d="M297.4,299.9 L296.6,301.3 L294.8,302.5 L292.0,303.5 L288.5,304.2 L284.7,304.6 L281.0,304.8 L278.0,304.7 L276.1,304.5 L272.6,303.7 L270.6,303.2 L268.5,302.6 L266.3,301.9 L264.2,301.2 L262.3,300.4 L259.6,299.2 L256.9,297.5 L255.4,295.9 L255.3,294.3 L256.5,293.0 L258.9,291.9 L262.4,291.0 L264.5,290.7 L266.6,290.5 L268.9,290.3 L271.1,290.2 L273.3,290.2 L276.2,290.2 L278.9,290.4 L281.1,290.8 L284.4,291.7 L288.0,292.9 L291.5,294.3 L294.4,295.9 L296.4,297.5 L297.3,299.1 L297.4,299.9" stroke="#0094ff" stroke-opacity="1" stroke-width="1.1"/>
<path d="M294.0,299.5 L293.4,300.6 L291.9,301.6 L289.5,302.4 L286.7,303.0 L283.5,303.4 L280.5,303.5 L278.0,303.4 L276.4,303.3 L273.6,302.6 L270.1,301.7 L266.6,300.5 L263.5,299.2 L261.1,297.9 L259.6,296.5 L259.1,295.2 L259.9,294.0 L261.6,293.1 L264.3,292.3 L267.7,291.8 L271.4,291.5 L275.0,291.4 L277.9,291.5 L279.4,291.7 L281.9,292.3 L284.8,293.2 L287.7,294.3 L290.4,295.5 L292.4,296.8 L293.7,298.2 L294.0,299.5" stroke="#0068ff" stroke-opacity="1" stroke-width="1.1"/>
<path d="M291.1,299.1 L290.6,300.1 L289.3,300.9 L287.4,301.5 L285.1,302.0 L282.5,302.3 L280.0,302.4 L278.0,302.4 L276.7,302.2 L274.4,301.7 L271.6,300.9 L268.7,300.0 L266.2,298.9 L264.2,297.8 L263.0,296.7 L262.6,295.6 L263.2,294.7 L264.7,293.9 L266.9,293.3 L269.6,292.8 L272.6,292.6 L275.5,292.6 L277.9,292.6 L279.2,292.8 L281.1,293.2 L283.5,294.0 L286.0,294.8 L288.1,295.9 L289.8,297.0 L290.8,298.1 L291.1,299.1" stroke="#0038ff" stroke-opacity="1" stroke-width="1.1"/>
<path d="M288.5,298.8 L288.1,299.6 L287.1,300.2 L285.6,300.7 L283.7,301.1 L281.6,301.4 L279.6,301.4 L278.0,301.4 L277.0,301.3 L275.1,300.9 L272.8,300.3 L270.5,299.5 L268.5,298.6 L266.9,297.7 L265.9,296.8 L265.6,296.0 L266.1,295.2 L267.2,294.6 L269.0,294.1 L271.2,293.7 L273.6,293.6 L276.0,293.5 L277.9,293.6 L278.9,293.7 L280.5,294.1 L282.5,294.6 L284.4,295.4 L286.2,296.2 L287.5,297.1 L288.3,297.9 L288.5,298.8" stroke="#0008ff" stroke-opacity="1" stroke-width="1.1"/>
<path d="M286.4,298.5 L286.1,299.1 L285.3,299.7 L284.1,300.1 L282.6,300.4 L280.9,300.6 L279.3,300.7 L278.0,300.6 L277.2,300.5 L275.7,300.2 L273.9,299.7 L272.0,299.1 L270.4,298.4 L269.1,297.7 L268.3,297.0 L268.1,296.3 L268.5,295.7 L269.4,295.2 L270.8,294.8 L272.6,294.5 L274.5,294.3 L276.4,294.3 L277.9,294.4 L278.8,294.5 L280.0,294.8 L281.6,295.2 L283.1,295.8 L284.5,296.5 L285.6,297.2 L286.3,297.9 L286.4,298.5" stroke="#0000e8" stroke-opacity="1" stroke-width="1.1"/>
<path d="M284.3,298.3 L284.1,298.7 L283.5,299.1 L282.6,299.4 L281.4,299.7 L280.2,299.8 L279.0,299.9 L278.0,299.8 L277.4,299.8 L276.3,299.5 L274.9,299.2 L273.5,298.7 L272.3,298.2 L271.3,297.6 L270.7,297.1 L270.6,296.6 L270.8,296.1 L271.5,295.7 L272.6,295.5 L273.9,295.2 L275.4,295.1 L276.8,295.1 L278.0,295.1 L278.6,295.2 L279.5,295.4 L280.7,295.8 L281.8,296.2 L282.9,296.7 L283.7,297.2 L284.2,297.8 L284.3,298.3" stroke="#0000b2" stroke-opacity="1" stroke-width="1.1"/>
<path d="M282.2,298.0 L282.1,298.3 L281.6,298.6 L281.0,298.8 L280.3,299.0 L279.5,299.0 L278.7,299.1 L278.0,299.1 L277.6,299.0 L276.8,298.9 L275.9,298.6 L275.0,298.3 L274.2,298.0 L273.5,297.6 L273.1,297.2 L273.0,296.9 L273.2,296.6 L273.7,296.3 L274.4,296.1 L275.3,296.0 L276.3,295.9 L277.2,295.9 L278.0,295.9 L278.4,296.0 L279.0,296.1 L279.8,296.4 L280.6,296.6 L281.3,297.0 L281.8,297.3 L282.1,297.7 L282.2,298.0" stroke="#000080" stroke-opacity="1" stroke-width="1.1"/>
<path d="M281.0,297.9 L280.8,298.1 L280.6,298.3 L280.1,298.4 L279.6,298.5 L279.0,298.6 L278.5,298.6 L278.0,298.6 L277.7,298.6 L277.2,298.4 L276.5,298.3 L275.9,298.1 L275.3,297.8 L274.9,297.6 L274.6,297.3 L274.5,297.1 L274.7,296.9 L275.0,296.7 L275.5,296.5 L276.1,296.4 L276.8,296.4 L277.4,296.4 L278.0,296.4 L278.3,296.4 L278.7,296.5 L279.3,296.7 L279.8,296.9 L280.3,297.1 L280.7,297.4 L280.9,297.6 L281.0,297.9" stroke="#000080" stroke-opacity="1" stroke-width="1.1"/>
<path d="M279.9,297.7 L279.8,297.9 L279.6,298.0 L279.3,298.1 L279.0,298.1 L278.6,298.2 L278.3,298.2 L278.0,298.2 L277.8,298.2 L277.5,298.1 L277.1,298.0 L276.7,297.9 L276.3,297.7 L276.0,297.5 L275.9,297.4 L275.8,297.2 L275.9,297.1 L276.1,297.0 L276.4,296.9 L276.8,296.8 L277.2,296.8 L277.6,296.8 L278.0,296.8 L278.2,296.8 L278.4,296.9 L278.8,297.0 L279.1,297.1 L279.4,297.3 L279.7,297.4 L279.8,297.6 L279.9,297.7" stroke="#000080" stroke-opacity="1" stroke-width="1.1"/>
<path d="M228.0,292.0 L229.4,289.7 L231.6,288.3 L234.1,287.2 L236.3,286.5 L238.5,285.9 L241.0,285.4 L243.1,285.0 L245.2,284.6 L247.4,284.3 L249.7,284.0 L252.1,283.7 L254.5,283.5 L256.6,283.4 L258.7,283.3 L260.7,283.2 L262.8,283.1 L264.9,283.0 L267.0,283.0 L269.1,283.0 L271.3,283.0 L273.4,283.1 L275.6,283.2 L277.8,283.3 L279.9,283.5 L282.0,283.7 L284.1,284.0 L286.1,284.2 L288.1,284.5 L290.1,284.9 L292.4,285.3 L294.7,285.8 L296.8,286.3 L298.9,286.9 L301.0,287.5 L302.9,288.1 L305.0,288.9 L307.1,289.8 L309.1,290.8 L311.3,292.0 L313.3,293.4 L315.0,294.8 L316.7,296.9 L317.7,299.2 L317.9,301.5 L316.1,303.6 L313.7,304.8 L311.2,305.7 L309.1,306.3 L306.9,306.8 L304.5,307.2 L302.0,307.7 L300.0,307.9 L297.9,308.2 L295.8,308.4 L293.6,308.6 L291.3,308.7 L289.0,308.8 L286.7,308.9 L284.4,309.0 L282.0,309.0 L280.0,309.0 L278.0,308.9 L276.0,308.9 L273.8,308.8 L273.2,308.8" stroke="#5fe86e"/>
<path d="M228.5,294.2 L228.0,292.0" stroke="#5fe86e"/>
<path d="M219.0,291.0 L220.2,288.1 L222.0,286.6 L224.2,285.2 L226.2,284.2 L228.5,283.3 L230.4,282.7 L232.5,282.1 L234.7,281.5 L237.0,281.0 L239.4,280.5 L241.5,280.2 L243.6,279.9 L245.8,279.6 L248.0,279.3 L250.2,279.1 L252.5,278.9 L254.9,278.7 L257.2,278.6 L259.6,278.5 L262.0,278.4 L264.0,278.4 L266.1,278.4 L268.2,278.4 L270.3,278.5 L272.4,278.5 L274.5,278.6 L276.6,278.7 L278.7,278.8 L280.8,279.0 L282.9,279.1 L284.9,279.3 L286.9,279.5 L289.0,279.7 L290.9,280.0 L292.9,280.2 L295.1,280.5 L297.3,280.8 L299.4,281.2 L301.5,281.6 L303.5,282.0 L305.6,282.4 L307.8,282.9 L310.0,283.4 L312.1,284.0 L314.1,284.6 L316.1,285.2 L318.3,285.9 L320.4,286.6 L322.4,287.4 L324.3,288.3 L326.2,289.2 L328.2,290.2 L330.0,291.3 L332.0,292.6" stroke="#7dec48"/>
<path d="M332.0,306.8 L329.7,307.6 L327.6,308.3 L325.4,308.8 L323.1,309.3 L321.0,309.7 L318.9,310.1 L316.7,310.4 L314.4,310.7 L312.1,311.0 L310.0,311.3 L307.9,311.5 L305.8,311.7 L303.7,311.8 L301.5,312.0 L299.3,312.1 L297.0,312.2 L294.8,312.3 L292.5,312.4 L290.2,312.4 L287.9,312.5 L285.6,312.5 L283.4,312.5 L281.2,312.5 L279.1,312.4 L276.9,312.3 L274.8,312.2 L272.7,312.1 L270.5,312.0 L268.4,311.8 L266.4,311.6 L264.3,311.4 L262.3,311.2 L260.2,310.9 L258.1,310.6 L255.8,310.3 L253.6,309.9 L251.5,309.5 L249.4,309.1 L247.3,308.6 L245.3,308.2 L243.2,307.6 L241.0,307.0 L238.9,306.4 L236.9,305.7 L234.8,305.0 L232.6,304.1 L230.6,303.2 L228.8,302.2 L226.8,301.1 L224.9,299.9 L223.3,298.6 L221.7,297.0 L220.3,295.2 L219.4,293.1 L219.0,291.0" stroke="#7dec48"/>
<path d="M207.0,289.0 L207.5,286.8 L208.9,284.7 L210.8,283.0 L212.7,281.7 L214.8,280.5 L216.8,279.6 L218.9,278.7 L221.1,278.0 L223.1,277.3 L225.2,276.7 L227.4,276.2 L229.7,275.7 L232.0,275.2 L234.0,274.8 L236.1,274.5 L238.2,274.1 L240.4,273.8 L242.6,273.6 L244.9,273.3 L247.2,273.1 L249.3,273.0 L251.3,272.8 L253.3,272.7 L255.3,272.6 L257.4,272.6 L259.4,272.5 L261.5,272.5 L263.6,272.5 L265.7,272.5 L267.8,272.6 L269.8,272.6 L271.9,272.7 L274.0,272.8 L276.1,272.9 L278.1,273.0 L280.2,273.1 L282.3,273.2 L284.3,273.4 L286.3,273.6 L288.3,273.8 L290.4,274.0 L292.4,274.2 L294.5,274.4 L296.6,274.7 L298.7,275.0 L300.8,275.3 L302.9,275.6 L305.0,275.9 L307.0,276.3 L309.0,276.7 L311.1,277.1 L313.2,277.5 L315.3,278.0 L317.4,278.5 L319.4,279.0 L321.4,279.5 L323.4,280.0 L325.3,280.6 L327.3,281.2 L329.4,281.9 L331.3,282.5 L333.2,283.2 L335.2,284.0 L337.2,284.8 L339.1,285.6 L340.9,286.5 L342.8,287.5 L344.7,288.5 L346.4,289.6 L348.1,290.6 L349.8,291.9 L351.6,293.4 L353.3,295.0 L354.7,296.6 L355.9,298.2 L356.9,300.2 L357.6,302.3 L357.9,304.5 L356.7,307.0 L354.4,308.4 L352.2,309.2 L349.9,309.9 L347.7,310.5 L345.5,311.1 L343.4,311.5 L341.1,311.9 L339.1,312.3 L337.0,312.6 L334.8,312.9 L332.5,313.2 L330.4,313.4 L328.3,313.7 L326.2,313.9 L324.0,314.1 L321.8,314.3 L319.6,314.5 L317.5,314.6 L315.5,314.7 L313.4,314.9 L311.3,315.0 L309.2,315.1 L307.1,315.2 L304.9,315.2 L302.7,315.3 L300.5,315.4 L298.3,315.4 L296.1,315.5 L293.9,315.5 L291.7,315.5 L289.5,315.5 L287.3,315.5 L285.1,315.4 L282.9,315.4 L280.8,315.3 L278.6,315.2 L276.5,315.1 L274.9,315.0" stroke="#a0f53c"/>
<path d="M232.8,308.2 L230.8,307.6 L228.7,306.8 L226.6,306.1 L224.6,305.3 L222.6,304.4 L220.5,303.5 L218.6,302.5 L216.6,301.3 L214.7,300.1 L212.9,298.8 L211.4,297.5 L209.8,295.9 L208.6,294.2 L207.5,291.9 L207.1,289.6 L207.0,289.0" stroke="#a0f53c"/>
<path d="M446.7,13.3 L446.4,15.3 L446.2,17.3 L445.9,19.3 L445.7,21.3 L445.4,23.2 L445.2,25.2 L444.9,27.2 L444.7,29.2 L444.4,31.2 L444.2,33.2 L443.9,35.2 L443.7,37.2 L443.4,39.2 L443.2,41.2 L442.9,43.1 L442.7,45.1 L442.4,47.1 L442.2,49.1 L441.9,51.1 L441.6,53.1 L441.4,55.1 L441.1,57.1 L440.9,59.1 L440.6,61.0 L440.4,63.0 L440.1,65.0 L439.9,67.0 L439.6,69.0 L439.3,71.0 L439.0,73.0 L438.6,75.0 L438.2,77.0 L437.9,79.0 L437.5,81.0 L437.2,83.0 L436.8,85.0 L436.5,87.0 L436.2,89.0 L435.9,91.0 L435.6,93.0 L435.3,95.0 L434.9,97.0 L434.6,99.0 L434.3,101.0 L434.0,103.0 L433.7,105.0 L433.4,107.0 L433.1,109.0 L432.8,111.0 L432.5,113.0 L432.2,115.0 L431.9,117.0 L431.6,119.0 L431.2,121.0 L430.7,122.9 L430.2,124.9 L429.7,126.8 L429.2,128.8 L428.7,130.7 L428.2,132.7 L427.7,134.6 L427.3,136.6 L426.8,138.5 L426.3,140.5 L425.7,142.5 L425.1,144.5 L424.5,146.5 L423.9,148.5 L423.2,150.4 L422.5,152.3 L421.8,154.2 L421.0,156.0 L420.3,157.9 L419.5,159.8 L418.8,161.6 L418.1,163.5 L417.3,165.4 L416.6,167.2 L415.5,168.9 L414.3,170.6 L413.2,172.2 L412.0,173.9 L410.8,175.5 L409.6,177.2 L408.5,178.8 L407.3,180.5 L405.8,181.9 L404.4,183.4 L402.9,184.8 L401.5,186.3 L400.0,187.7 L398.6,189.1 L396.9,190.3 L395.2,191.3 L393.4,192.4 L391.7,193.4 L390.0,194.5 L389.1,195.0" stroke="#eeee00"/>
<path d="M348.0,213.9 L346.0,214.5 L344.1,215.2 L342.1,215.8 L340.1,216.4 L338.1,217.0 L336.2,217.7 L334.2,218.3 L332.2,218.9 L330.3,219.4 L328.3,220.0 L326.4,220.5 L324.4,221.1 L322.4,221.6 L320.5,222.2 L318.6,222.8 L316.7,223.5 L314.8,224.2 L312.9,224.9 L311.3,225.9 L309.8,227.4 L308.3,228.9 L306.8,230.3 L306.4,230.7" stroke="#eeee00"/>
<path d="M462.3,13.3 L462.1,15.3 L461.8,17.3 L461.6,19.3 L461.4,21.3 L461.1,23.3 L460.9,25.4 L460.7,27.4 L460.4,29.4 L460.2,31.4 L460.0,33.4 L459.7,35.4 L459.5,37.4 L459.3,39.4 L459.0,41.4 L458.8,43.4 L458.6,45.5 L458.3,47.5 L458.1,49.5 L457.9,51.5 L457.6,53.5 L457.4,55.5" stroke="#c8f519"/>
<path d="M449.0,102.4 L448.7,104.4 L448.3,106.4 L448.0,108.4 L447.7,110.4 L447.4,112.4 L447.0,114.4 L446.7,116.5 L446.4,118.5 L446.1,120.5 L445.7,122.5 L445.4,124.5 L445.1,126.5 L444.7,128.5 L444.4,130.5 L443.8,132.5 L443.3,134.5 L442.7,136.5 L442.2,138.5 L441.6,140.5 L441.0,142.4 L440.4,144.3 L439.8,146.2 L439.2,148.2 L438.6,150.1 L437.9,152.0 L437.3,153.9 L436.7,155.8 L436.0,157.7 L435.3,159.6 L434.6,161.5 L433.9,163.4 L433.2,165.3 L432.5,167.2 L431.8,169.0 L431.1,170.9 L430.0,172.6 L428.8,174.3 L427.7,175.9 L426.5,177.5 L425.3,179.2 L424.1,180.8 L423.0,182.5 L421.8,184.1 L420.1,185.2 L418.4,186.2 L416.7,187.3 L415.0,188.4 L413.3,189.5 L411.6,190.5 L409.9,191.6 L408.2,192.7 L406.5,193.8 L404.8,195.0 L403.2,196.1 L401.5,197.3 L399.9,198.5 L398.2,199.7 L396.6,200.8 L394.9,202.0 L393.1,203.0 L391.3,204.0 L389.5,205.0 L387.7,206.0 L385.9,207.0 L384.2,208.1 L382.6,209.3 L380.9,210.4 L379.3,211.6 L379.5,212.1 L381.5,211.9 L383.5,211.7 L385.5,211.5 L387.5,211.3 L389.5,211.1 L391.5,210.8 L393.5,210.6 L395.5,210.3 L397.5,210.1 L399.5,209.9 L401.5,209.6 L403.5,209.3 L405.5,209.0 L407.5,208.8 L409.5,208.5 L411.5,208.2 L413.5,207.9 L415.5,207.6 L417.5,207.3 L419.5,207.1 L421.5,206.7 L423.5,206.4 L425.5,206.1 L427.5,205.7 L429.5,205.4 L431.5,205.1 L433.5,204.7 L435.5,204.4 L437.5,204.1 L439.5,203.7 L441.5,203.4 L443.5,203.1 L445.5,202.7 L447.5,202.3 L449.5,201.8 L451.5,201.4 L453.5,201.0 L455.5,200.6 L457.5,200.1 L459.5,199.7 L461.5,199.3 L463.5,198.8 L465.5,198.4 L467.4,197.8 L469.4,197.2 L471.3,196.5 L473.2,195.9 L475.2,195.2 L477.1,194.6 L479.0,193.9 L480.9,193.3 L482.9,192.7 L484.8,192.0 L486.7,191.4 L488.7,190.8 L490.6,190.3 L492.6,189.8 L494.5,189.2 L496.5,188.7 L498.4,188.2 L500.4,187.7 L502.3,187.1 L503.7,185.7 L504.8,184.0 L505.9,182.3 L507.1,180.6 L508.2,178.9 L509.0,177.0 L509.7,175.0 L510.3,173.0 L511.0,171.0 L511.3,169.0 L511.3,167.0 L511.3,165.0 L511.3,163.0 L511.4,161.0 L511.4,159.0 L511.4,157.0 L511.4,155.0 L511.4,153.0 L511.4,151.0 L511.4,149.0 L511.5,147.0 L511.5,145.0 L511.5,143.0 L511.5,141.0 L511.5,139.0 L511.4,137.0 L511.4,135.0 L511.3,133.0 L511.3,131.0 L511.2,129.0 L511.2,127.0 L511.1,125.0 L511.1,123.0 L511.1,121.0 L511.0,119.0 L511.0,117.0 L510.9,115.0 L510.9,113.0 L510.8,111.0 L510.9,109.5 L511.1,107.5 L511.4,105.5 L511.6,103.5 L511.9,101.5 L512.1,99.5 L512.4,97.5 L512.7,95.5 L512.9,93.5 L513.2,91.5 L513.4,89.5 L513.7,87.5 L513.9,85.5 L514.4,83.5 L515.0,81.6 L515.6,79.7 L516.1,77.7 L516.7,75.8 L517.3,73.9 L517.8,71.9 L518.4,70.0 L519.0,68.1 L519.5,66.1 L520.1,64.2 L520.7,62.3 L521.2,60.3 L521.8,58.4 L522.4,56.5 L523.0,54.5 L523.8,52.6 L524.6,50.7 L525.4,48.8 L526.2,46.9 L527.0,45.0 L527.9,43.1 L528.8,41.3 L529.7,39.4 L530.4,38.0" stroke="#c8f519"/>
<path d="M475.5,13.3 L475.3,15.3 L475.1,17.3 L474.9,19.3 L474.7,21.3 L474.5,23.3 L474.3,25.3 L474.1,27.4 L473.9,29.4 L473.6,31.4 L473.4,33.4 L473.2,35.4 L473.0,37.4 L472.8,39.4 L472.6,41.4 L472.4,43.4 L472.2,45.4 L472.0,47.4 L471.8,49.4 L471.6,51.4 L471.4,53.4 L471.2,55.5 L471.0,57.5 L470.8,59.5 L470.6,61.5 L470.4,63.5 L470.2,65.5 L469.9,67.5 L469.4,69.5 L469.0,71.4 L468.5,73.4 L468.1,75.4 L467.7,77.3 L467.2,79.3 L466.8,81.3 L466.3,83.2 L465.9,85.2 L465.4,87.2 L465.0,89.1 L464.5,91.1 L464.1,93.1 L463.6,95.0 L463.2,97.0 L462.9,99.0 L462.5,100.9 L462.1,102.9 L461.8,104.9 L461.4,106.8 L461.0,108.8 L460.7,110.8 L460.3,112.8 L459.9,114.7 L459.6,116.7 L459.2,118.7 L458.8,120.6 L458.5,122.6 L458.1,124.6 L457.7,126.6 L457.4,128.5 L457.1,130.5 L456.9,132.5 L456.8,133.0" stroke="#a0f53c"/>
<path d="M437.7,171.4 L436.6,173.1 L435.4,174.9 L434.3,176.6 L433.1,178.3 L432.0,180.0 L430.4,181.2 L428.8,182.4 L427.1,183.5 L425.5,184.7 L424.1,186.1 L422.7,187.6 L421.3,189.1 L419.9,190.5 L418.5,192.0 L417.1,193.5 L415.7,195.0 L414.3,196.4 L412.9,197.9 L411.6,199.5 L410.3,201.1 L409.0,202.7 L407.7,204.3 L409.6,204.9 L411.6,205.4 L413.5,205.9 L415.4,206.5 L417.4,207.1 L419.3,207.6 L421.3,207.2 L423.3,206.7 L425.3,206.3 L427.2,205.8 L429.2,205.4 L431.2,204.9 L433.2,204.5 L435.2,204.0 L437.2,203.6 L439.1,203.1 L441.1,202.7 L443.1,202.2 L445.1,201.8 L447.1,201.4 L449.1,201.0 L451.1,200.6 L453.1,200.1 L455.1,199.7 L457.1,199.3 L459.0,198.9 L461.0,198.5 L463.0,198.1 L465.0,197.6 L467.0,197.2 L469.0,196.8 L471.0,196.3 L472.9,195.8 L474.9,195.3 L476.8,194.8 L478.7,194.2 L480.7,193.7 L482.6,193.2 L484.6,192.7 L486.5,192.1 L488.3,191.3 L490.1,190.3 L491.9,189.3 L493.7,188.3 L495.5,187.3 L497.3,186.3 L498.9,185.2 L499.9,183.4 L501.0,181.6 L502.0,179.8 L503.0,178.0 L503.7,176.0 L504.3,174.0 L505.0,172.0 L505.7,170.0 L505.8,168.0 L505.9,166.0 L505.9,164.0 L506.0,162.0 L506.1,160.0 L506.2,158.0 L506.3,156.0 L506.3,154.0 L506.4,152.0 L506.5,150.0 L506.6,148.0 L506.7,146.0 L506.7,144.0 L506.8,142.0 L506.9,140.0 L506.9,138.0 L506.9,136.0 L506.9,134.0 L506.9,132.0 L506.9,130.0 L506.9,128.0 L506.9,126.0 L506.9,124.0 L506.9,122.0 L506.9,120.0 L506.9,118.0 L506.9,116.0 L506.9,114.0 L506.9,112.0 L506.9,110.0 L507.1,108.0 L507.4,106.0 L507.6,104.0 L507.9,102.0 L508.1,100.0 L508.4,98.0 L508.6,96.0 L508.9,94.0 L509.1,92.0 L509.4,90.0 L509.6,88.0 L509.9,86.0 L510.3,84.0 L510.9,82.1 L511.4,80.2 L512.0,78.2 L512.6,76.3 L513.2,74.4 L513.7,72.4 L514.3,70.5 L514.9,68.5 L515.5,66.6 L516.0,64.7 L516.6,62.7 L517.2,60.8 L517.8,58.9 L518.3,56.9 L518.9,55.0 L519.7,53.1 L520.4,51.1 L521.2,49.2 L521.9,47.3 L522.7,45.4 L523.4,43.4 L524.2,41.6 L525.2,39.8 L526.1,38.0 L527.1,36.2 L528.0,34.4 L529.0,32.7 L529.9,30.9 L530.4,30.0" stroke="#a0f53c"/>
<path d="M486.1,13.3 L485.9,15.3 L485.8,17.3 L485.6,19.3 L485.5,21.3 L485.3,23.3 L485.1,25.3 L485.0,27.4 L484.8,29.4 L484.7,31.4 L484.5,33.4 L484.4,35.4 L484.2,37.4 L484.0,39.4 L483.9,41.4 L483.7,43.4 L483.6,45.4 L483.4,47.4 L483.2,49.4 L483.1,51.5 L482.9,53.5 L482.8,55.5 L482.6,57.5 L482.5,59.5 L482.3,61.5 L482.1,63.5 L481.8,65.5 L481.4,67.5 L481.0,69.5 L480.6,71.5 L480.2,73.5 L479.8,75.5 L479.5,77.5 L479.1,79.5 L478.7,81.5 L478.3,83.5 L477.9,85.5 L477.5,87.5 L477.1,89.5 L476.6,91.5 L476.1,93.4 L475.6,95.4 L475.1,97.4 L474.6,99.3 L474.1,101.3 L473.6,103.2 L473.0,105.2 L472.5,107.2 L472.0,109.1 L471.5,111.1 L471.0,113.0 L470.5,115.0 L470.0,117.0 L469.5,118.9 L469.0,120.9 L468.5,122.8 L468.0,124.8 L467.4,126.8 L466.9,128.7 L466.4,130.7 L465.9,132.6 L465.4,134.6 L464.9,136.6 L464.4,138.5 L463.9,140.5 L463.3,142.4 L462.7,144.4 L462.1,146.3 L461.5,148.3 L460.9,150.2 L460.3,152.2 L459.8,154.1 L459.2,156.1 L458.6,158.0 L458.0,160.0 L457.4,161.9 L456.9,163.9 L456.3,165.8 L455.7,167.8 L455.1,169.7 L454.6,171.7 L454.0,173.6 L453.4,175.5 L452.8,177.4 L451.8,179.2 L450.8,181.1 L449.8,182.8 L448.8,184.7 L447.6,186.3 L445.8,187.4 L444.0,188.5 L442.2,189.6 L440.4,190.7 L438.6,191.6 L436.8,192.5 L435.0,193.3 L436.0,193.8 L438.0,194.2 L440.0,194.5 L442.0,194.9 L444.0,195.3 L446.0,195.5 L448.1,195.6 L450.1,195.7 L452.1,195.8 L454.2,195.9 L456.2,196.0 L458.3,196.0 L459.3,196.0" stroke="#7dec48"/>
<path d="M497.7,177.6 L499.0,176.0 L499.5,174.0 L499.9,172.0 L500.4,170.0 L500.8,168.0 L501.3,166.0 L501.5,164.0 L501.6,162.0 L501.7,160.0 L501.7,158.0 L501.8,156.0 L501.9,154.0 L501.9,152.0 L502.0,150.0 L502.0,148.0 L502.1,146.0 L502.2,144.0 L502.2,142.0 L502.3,140.0 L502.3,138.0 L502.4,136.0 L502.4,134.0 L502.5,132.0 L502.5,130.0 L502.6,128.0 L502.6,126.0 L502.7,124.0 L502.7,122.0 L502.8,120.0 L502.8,118.0 L502.9,116.0 L502.9,114.0 L503.0,112.0 L503.0,110.0 L503.3,108.0 L503.5,106.0 L503.8,104.0 L504.1,102.0 L504.4,100.0 L504.6,98.0 L504.9,96.0 L505.2,94.0 L505.5,92.0 L505.7,90.0 L506.0,88.0 L506.4,86.0 L506.9,84.1 L507.3,82.1 L507.8,80.1 L508.2,78.1 L508.7,76.2 L509.1,74.2 L509.6,72.2 L510.0,70.3 L510.5,68.3 L510.9,66.3 L511.4,64.4 L511.8,62.4 L512.3,60.4 L512.7,58.4 L513.2,56.5 L513.7,54.5 L514.4,52.6 L515.1,50.6 L515.8,48.7 L516.5,46.8 L517.2,44.8 L517.9,42.9 L518.6,41.0 L519.5,39.1 L520.4,37.3 L521.3,35.5 L522.2,33.6 L523.1,31.8 L524.0,30.0 L525.1,28.3 L526.2,26.5 L527.3,24.8 L528.5,23.0 L529.6,21.3 L530.4,20.0" stroke="#7dec48"/>
<path d="M487.7,59.5 L487.5,61.5 L487.2,63.5 L487.0,65.5 L486.8,67.5 L486.6,69.5 L486.4,71.5 L486.2,73.5 L485.9,75.5 L485.7,77.6 L485.5,79.6 L485.3,81.7 L485.1,83.7 L484.9,85.7 L484.7,87.8 L484.5,89.8 L484.3,91.9 L484.0,93.9 L483.7,95.9 L483.4,97.9 L483.1,99.9 L482.8,101.9 L482.6,104.0 L482.3,106.0 L482.0,108.0 L481.7,110.0 L481.4,112.0 L481.1,114.0 L480.6,115.9 L479.9,117.8 L479.1,119.7 L478.4,121.6 L477.6,123.4 L476.9,125.3 L476.1,127.2 L475.4,129.1 L474.5,130.9 L473.5,132.6 L472.4,134.3 L471.4,136.1 L470.4,137.8 L469.4,139.6 L468.9,141.5 L468.7,143.6 L468.5,145.6 L468.3,147.7 L468.0,149.7 L467.8,151.8 L467.6,153.8 L467.4,155.9 L467.4,157.9 L467.5,160.0 L467.5,162.0 L467.6,164.1 L467.7,166.1 L467.8,168.1 L467.9,170.2 L468.0,172.2 L468.1,174.2 L468.2,176.3 L469.3,177.8 L470.9,179.2 L472.4,180.5 L474.0,181.5 L476.0,181.6 L478.0,181.6 L480.1,181.7 L482.1,181.8 L484.1,181.6 L485.9,180.7 L487.7,179.9 L489.5,179.1 L491.3,178.2 L492.3,176.6 L493.0,174.6 L493.7,172.7 L494.5,170.8 L495.2,168.9 L495.9,166.9 L496.4,165.0 L496.6,163.0 L496.7,160.9 L496.8,158.9 L497.0,156.9 L497.1,154.9 L497.2,152.9 L497.4,150.8 L497.5,148.8 L497.6,146.8 L497.7,144.8 L497.7,142.8 L497.7,140.7 L497.8,138.7 L497.8,136.7 L497.9,134.7 L497.9,132.7 L498.0,130.7 L498.0,128.7 L498.0,126.6 L498.1,124.6 L498.1,122.6 L498.2,120.6 L498.2,118.6 L498.3,116.6 L498.3,114.5 L498.3,112.5 L498.4,110.5 L498.5,108.5 L498.7,106.5 L498.9,104.5 L499.1,102.5 L499.3,100.5 L499.5,98.5 L499.7,96.5 L499.9,94.5 L500.1,92.5 L500.3,90.5 L500.5,88.5 L500.8,86.5 L501.2,84.5 L501.6,82.5 L502.0,80.5 L502.4,78.5 L502.8,76.5 L503.1,74.5 L503.5,72.5 L503.9,70.5 L504.3,68.5 L504.7,66.5 L505.2,64.5 L505.8,62.6 L506.5,60.6 L507.1,58.7 L507.8,56.7 L508.4,54.8 L509.1,52.8 L509.7,50.9 L510.4,48.9 L511.0,47.0 L511.9,45.2 L512.8,43.4 L513.7,41.6 L514.6,39.8 L515.5,38.0 L516.4,36.2 L517.3,34.4 L518.2,32.6 L519.2,30.8 L520.2,29.1 L521.2,27.3 L522.2,25.6 L523.2,23.8 L524.2,22.0 L524.9,20.1 L525.7,18.1 L526.4,16.2 L527.1,14.3 L527.5,13.3" stroke="#5fe86e"/>
<path d="M489.5,76.0 L489.3,78.0 L489.1,80.0 L488.9,82.0 L488.7,84.0 L488.5,86.0 L488.3,88.0 L488.1,90.0" stroke="#3ce2a0"/>
<path d="M480.8,136.9 L480.3,138.9 L479.8,140.9 L479.3,142.8 L478.8,144.8 L478.3,146.8 L477.9,148.8 L477.4,150.9 L477.0,152.9 L476.6,154.9 L476.1,157.0 L475.7,159.0 L475.3,161.0 L474.9,163.0 L474.4,165.1 L474.0,167.1 L473.6,169.1 L474.3,171.1 L475.0,173.0 L475.7,175.0 L476.9,176.6 L478.7,177.9 L480.6,177.9 L482.5,177.5 L484.5,177.1 L486.2,176.0 L487.7,174.7 L489.2,173.4 L490.2,171.7 L490.5,169.7 L490.8,167.8 L491.1,165.8 L491.5,163.8 L491.8,161.8 L492.1,159.9 L492.5,157.9 L492.7,155.9 L492.9,153.9 L493.0,151.9 L493.1,149.9 L493.2,147.8 L493.4,145.8 L493.5,143.8 L493.6,141.8 L493.6,139.8 L493.5,137.8 L493.5,135.7 L493.4,133.7 L493.4,131.7 L493.4,129.7 L493.3,127.7 L493.3,125.6 L493.3,123.6 L493.2,121.6 L493.2,119.6 L493.1,117.6 L493.1,115.6 L493.1,113.5 L493.0,111.5 L493.0,110.5" stroke="#3ce2a0"/>
<path d="M492.5,91.0 L492.3,89.0 L492.1,87.0 L492.0,85.0 L491.8,83.0 L491.6,81.0 L491.0,79.0 L490.0,77.0 L489.5,76.0" stroke="#3ce2a0"/>
<path d="M484.2,152.7 L484.9,154.6 L485.6,156.5 L485.9,158.5 L485.9,160.5 L486.0,162.5 L485.8,164.5 L485.6,166.5 L485.4,168.5 L484.0,169.0 L483.4,167.0 L482.8,165.0 L482.7,163.0 L482.7,161.0 L482.6,159.0 L482.7,157.0 L483.0,155.0 L483.7,153.1 L484.2,152.7" stroke="#0fd7e6"/>
<path d="M386.0,213.2 L388.0,213.1 L390.0,213.1 L392.0,213.0 L394.0,212.9 L396.0,212.8 L398.0,212.8 L400.0,212.7 L402.1,212.5 L404.1,212.3 L406.2,212.1 L408.3,211.9 L410.3,211.7 L412.4,211.5 L414.4,211.1 L416.4,210.8 L418.4,210.4 L420.3,210.1 L422.3,209.8 L424.3,209.4 L426.3,209.1 L428.3,208.7 L430.3,208.4 L432.2,208.0 L434.2,207.7 L436.2,207.3 L438.2,207.0 L440.2,206.6 L442.2,206.1 L444.2,205.6 L446.2,205.2 L448.2,204.7 L450.1,204.2 L452.1,203.8 L454.1,203.3 L456.1,202.8 L458.1,202.4 L460.1,201.9 L462.1,201.4 L464.0,201.0 L466.0,200.5 L468.0,200.0 L469.9,199.4 L471.9,198.9 L473.8,198.3 L475.8,197.8 L477.7,197.3 L479.7,196.7 L481.6,196.2 L483.6,195.7 L485.5,195.1 L487.5,194.6 L489.4,194.0 L491.4,193.5 L493.3,193.0 L495.2,192.3 L497.1,191.6 L499.0,190.8 L500.9,190.0 L502.8,189.3 L504.7,188.5 L506.6,187.8 L508.5,187.0 L509.6,185.3 L510.8,183.6 L511.9,181.9 L513.1,180.2 L514.2,178.5 L514.9,176.5 L515.5,174.5 L516.2,172.5 L516.8,170.5 L517.0,168.5 L516.9,166.5 L516.9,164.5 L516.8,162.5 L516.7,160.5 L516.7,158.5 L516.6,156.5 L516.6,154.5 L516.5,152.5 L516.5,150.5 L516.4,148.5 L516.4,146.5 L516.3,144.5 L516.3,142.5 L516.2,140.5 L516.2,138.5 L516.1,136.5 L516.1,134.5 L516.0,132.5 L515.9,130.5 L515.9,128.5 L515.8,126.5 L515.8,124.5 L515.7,122.5 L515.7,120.5 L515.6,118.5 L515.6,116.5 L515.5,114.5 L515.5,112.5 L515.4,110.5 L515.5,109.0 L515.8,107.0 L516.0,105.0 L516.3,103.0 L516.5,101.0 L516.8,99.0 L517.0,97.0 L517.3,95.0 L517.5,93.0 L517.8,91.0 L518.0,89.0 L518.3,87.0 L518.5,85.0 L519.0,83.0 L519.5,81.1 L520.0,79.1 L520.4,77.1 L520.9,75.2 L521.4,73.2 L521.9,71.2 L522.4,69.3 L522.9,67.3 L523.4,65.3 L523.8,63.4 L524.3,61.4 L524.8,59.4 L525.3,57.5 L525.8,55.5 L526.6,53.6 L527.5,51.9 L528.4,50.0 L529.3,48.2 L530.2,46.5 L530.4,46.0" stroke="#eeee00"/>
<path d="M350.0,226.4 L352.0,226.2 L354.0,226.1 L356.0,225.9 L358.0,225.8 L360.0,225.6 L362.0,225.5 L364.0,225.3 L366.0,225.2 L368.0,225.0 L370.0,224.9 L372.0,224.7 L374.0,224.6 L376.0,224.4 L378.0,224.3 L380.0,224.1 L382.0,223.9 L384.0,223.8 L386.0,223.6 L388.0,223.4 L390.0,223.2 L392.0,223.1 L394.0,222.9 L396.0,222.7 L398.0,222.6 L400.0,222.4 L402.0,222.0 L403.9,221.6 L405.9,221.2 L407.9,220.9 L409.8,220.5 L411.8,220.1 L413.8,219.7 L415.7,219.3 L417.7,218.9 L419.7,218.5 L421.6,218.1 L423.6,217.8 L425.6,217.4 L427.5,217.0 L429.5,216.6 L431.5,216.1 L433.4,215.6 L435.4,215.2 L437.3,214.7 L439.3,214.2 L441.2,213.7 L443.2,213.2 L445.1,212.7 L447.1,212.2 L449.0,211.7 L451.0,211.2 L452.9,210.5 L454.8,209.9 L456.8,209.2 L458.7,208.6 L460.7,207.9 L462.6,207.2 L464.5,206.6 L466.5,206.0 L468.4,205.5 L470.4,205.0 L472.4,204.5 L474.3,204.0 L476.3,203.5 L478.2,203.1 L480.2,202.6 L482.1,202.1 L484.1,201.6 L486.0,201.1 L488.0,200.6 L489.9,200.1 L491.9,199.6 L493.8,199.2 L495.8,198.7 L497.8,198.2 L499.7,197.7 L501.7,197.2 L503.6,196.7 L505.6,196.2 L507.5,195.7 L509.4,195.1 L511.3,194.4 L513.2,193.6 L515.1,192.8 L517.0,192.1 L518.9,191.3 L520.8,190.6 L522.7,189.8 L523.4,187.9 L524.1,186.0 L524.8,184.2 L525.5,182.3 L526.2,180.4 L526.9,178.5 L527.2,176.5 L527.6,174.5 L527.9,172.5 L528.2,170.5 L528.2,168.5 L528.0,166.5 L527.8,164.5 L527.6,162.5 L527.4,160.5 L527.2,158.5 L527.0,156.5 L526.9,154.5 L526.7,152.5 L526.5,150.5 L526.3,148.5 L526.1,146.5 L525.9,144.5 L525.7,142.5 L525.5,140.5 L525.5,139.0 L525.4,137.0 L525.3,135.0 L525.2,133.0 L525.1,131.0 L525.1,129.0 L525.0,127.0 L524.9,125.0 L524.8,123.0 L524.7,121.0 L524.7,119.0 L524.6,117.0 L524.5,115.0 L524.4,113.0 L524.3,111.0 L524.4,109.0 L524.7,107.0 L525.0,105.0 L525.2,103.0 L525.5,101.0 L525.8,99.0 L526.1,97.0 L526.3,95.0 L526.6,93.0 L526.9,91.0 L527.2,89.0 L527.6,87.0 L528.1,85.0 L528.5,83.0 L528.9,81.0 L529.3,79.0 L529.8,77.0 L530.2,75.0 L530.4,74.0" stroke="#ffa800"/>
<path d="M350.0,229.6 L352.0,229.5 L354.0,229.4 L356.0,229.3 L358.0,229.2 L360.0,229.1 L362.0,229.0 L364.0,228.9 L366.0,228.7 L368.0,228.6 L370.0,228.5 L372.0,228.4 L374.0,228.3 L376.0,228.2 L378.0,228.1 L380.0,228.0 L382.0,227.7 L384.0,227.4 L386.0,227.1 L388.0,226.8 L390.0,226.5 L392.0,226.2 L394.0,225.9 L396.0,225.6 L398.0,225.3 L400.0,225.0 L402.0,224.7 L404.0,224.3 L406.0,224.0 L408.0,223.7 L410.0,223.3 L412.0,223.0 L414.0,222.7 L416.0,222.3 L418.0,222.0 L420.0,221.7 L422.0,221.3 L424.0,221.0 L426.0,220.7 L428.0,220.3 L430.0,220.0 L432.0,219.6 L433.9,219.1 L435.9,218.7 L437.8,218.2 L439.8,217.8 L441.7,217.4 L443.7,216.9 L445.6,216.5 L447.6,216.0 L449.5,215.6 L451.4,215.0 L453.3,214.3 L455.2,213.6 L457.1,212.9 L458.9,212.3 L460.8,211.6 L462.7,210.9 L464.6,210.2 L466.5,209.6 L468.4,209.1 L470.3,208.5 L472.3,208.0 L474.2,207.5 L476.1,207.0 L478.1,206.5 L480.0,205.9 L481.9,205.4 L483.9,204.9 L485.8,204.4 L487.7,203.9 L489.7,203.4 L491.6,202.8 L493.5,202.3 L495.5,201.8 L497.4,201.3 L499.3,200.8 L501.3,200.2 L503.2,199.7 L505.1,199.2 L507.1,198.7 L509.0,198.1 L510.9,197.5 L512.9,196.9 L514.8,196.2 L516.8,195.6 L518.7,194.9 L520.6,194.3 L522.6,193.7 L524.5,193.0 L526.3,192.0 L527.8,190.5 L529.3,189.1 L530.4,188.0" stroke="#ff8200"/>
<path d="M374.5,231.4 L376.5,231.2 L378.5,230.9 L380.5,230.7 L382.5,230.4 L384.5,230.2 L386.5,229.9 L388.5,229.7 L390.5,229.4 L392.5,229.2 L394.5,228.9 L396.5,228.7 L398.5,228.4 L400.5,228.1 L402.5,227.7 L404.4,227.3 L406.4,226.9 L408.4,226.5 L410.3,226.1 L412.3,225.7 L414.3,225.3 L416.2,224.8 L418.2,224.4 L420.2,224.0 L422.1,223.6 L424.1,223.2 L426.1,222.8 L428.0,222.4 L430.0,222.0 L432.0,221.6 L434.0,221.2 L436.0,220.8 L438.0,220.4 L440.0,220.0 L442.0,219.6 L444.0,219.2 L446.0,218.8 L448.0,218.4 L450.0,218.0 L451.9,217.4 L453.9,216.8 L455.8,216.3 L457.8,215.7 L459.7,215.1 L461.6,214.5 L463.6,213.9 L465.5,213.3 L467.5,212.8 L469.4,212.3 L471.4,211.8 L473.3,211.3 L475.3,210.7 L477.2,210.2 L479.2,209.7 L481.1,209.2 L483.1,208.7 L485.1,208.1 L487.0,207.6 L489.0,207.1 L490.9,206.6 L492.9,206.1 L494.8,205.5 L496.8,205.0 L498.7,204.5 L500.7,204.0 L502.6,203.5 L504.6,202.9 L506.5,202.4 L508.5,201.9 L510.5,201.4 L512.5,201.0 L514.5,200.5 L516.5,200.1 L518.5,199.6 L520.4,199.2 L522.4,198.7 L524.4,198.3 L526.4,197.8 L528.4,197.4 L530.4,196.9" stroke="#ff5800"/>
<path d="M432.1,231.1 L434.1,230.9 L436.1,230.7 L438.2,230.4 L440.2,230.2 L442.2,230.0 L444.2,229.8 L446.3,229.5 L448.3,229.3 L450.3,229.1 L452.3,228.7 L454.2,228.2 L456.2,227.8 L458.1,227.3 L460.1,226.8 L462.1,226.4 L464.0,225.9 L466.0,225.5 L468.0,225.0 L470.0,224.5 L472.0,224.1 L474.0,223.6 L476.0,223.1 L478.0,222.6 L480.0,222.1 L481.9,221.5 L483.8,220.7 L485.7,220.0 L487.6,219.3 L489.5,218.5 L491.4,217.8 L493.3,217.1 L495.2,216.4 L497.1,215.6 L499.0,214.9 L500.9,214.2 L502.8,213.3 L504.6,212.5 L506.4,211.6 L508.2,210.8 L510.0,209.9 L511.8,209.0 L513.6,208.2 L515.5,207.3 L517.3,206.5 L519.2,205.8 L521.1,205.0 L522.9,204.3 L524.8,203.5 L526.7,202.7 L528.5,202.0 L530.4,201.2" stroke="#ff2d00"/>
<path d="M498.2,212.7 L500.0,211.5 L501.9,210.9 L503.9,210.2 L505.8,209.6 L507.7,208.9 L509.7,208.3 L511.6,207.6 L513.5,207.0 L515.5,206.4 L517.5,206.0 L519.5,205.6 L521.5,205.2 L523.4,204.9 L525.4,204.5 L527.4,204.1 L529.4,203.7 L530.4,203.5" stroke="#fa0000"/>
<path d="M507.1,218.2 L508.7,216.9 L510.3,215.7 L511.9,214.4 L513.5,213.2 L515.0,211.9 L516.6,210.7 L518.2,209.4 L519.8,208.2 L521.7,207.6 L523.7,207.0 L525.6,206.5 L527.5,205.9 L529.4,205.3 L530.4,205.0" stroke="#da000c"/>
<path d="M192.5,288.0 L193.0,285.4 L194.3,283.2 L195.8,281.5 L197.7,279.9 L199.4,278.7 L201.4,277.6 L203.5,276.5 L205.4,275.6 L207.5,274.8 L209.7,274.0 L211.8,273.3 L213.8,272.7 L215.9,272.2 L218.1,271.6 L220.3,271.1 L222.3,270.7 L224.3,270.3 L226.3,270.0 L228.4,269.6 L230.6,269.3 L232.7,269.0 L234.9,268.8 L237.1,268.6 L239.4,268.3 L241.7,268.2 L243.8,268.0 L245.8,267.9 L247.9,267.8 L249.9,267.8 L251.9,267.7 L254.0,267.7 L256.0,267.7 L258.1,267.7 L260.2,267.8 L262.3,267.8 L264.3,267.8 L266.4,267.9 L268.5,268.0 L270.5,268.0 L272.6,268.2 L274.1,268.3" stroke="#c8f519"/>
<path d="M316.5,273.6 L318.6,274.0 L320.6,274.5 L322.6,274.9 L324.5,275.4 L326.5,275.9 L328.4,276.4 L330.5,277.0 L332.5,277.5 L334.5,278.2 L336.6,278.8 L338.6,279.5 L340.6,280.2 L342.5,280.9 L344.5,281.6 L346.4,282.4 L348.4,283.2 L350.3,284.1 L352.1,285.0 L353.9,285.8 L355.8,286.8 L357.6,287.8 L359.4,289.0 L361.3,290.2 L362.9,291.4 L364.5,292.6 L366.1,294.0 L367.7,295.4 L369.2,297.1 L370.5,298.8 L371.7,300.5 L372.7,302.6 L373.4,304.8 L373.8,306.9 L373.8,309.2 L371.9,310.9 L369.8,311.9 L367.5,312.7 L365.4,313.3 L363.4,313.8 L361.2,314.2 L359.2,314.6 L357.1,315.0 L354.9,315.3 L352.9,315.6 L350.9,315.9 L348.7,316.2 L346.6,316.4 L344.6,316.7 L342.6,316.9 L340.5,317.1 L338.3,317.3 L336.1,317.5 L334.0,317.6 L332.0,317.8 L329.9,317.9 L327.8,318.0 L325.8,318.2 L323.6,318.3 L321.5,318.4 L319.3,318.5 L317.1,318.6 L314.9,318.7 L312.9,318.7 L310.9,318.8 L308.9,318.8 L306.8,318.9 L304.8,318.9 L302.7,318.9 L300.7,319.0 L298.6,319.0 L296.6,319.0 L294.5,319.0 L292.4,319.0 L290.4,319.0 L288.3,318.9 L286.2,318.9 L284.2,318.8 L282.1,318.8 L280.1,318.7 L278.1,318.6 L276.0,318.5 L274.0,318.3 L272.0,318.2 L270.0,318.1 L267.9,317.9 L265.8,317.7 L263.7,317.5 L261.5,317.3 L259.4,317.1 L257.3,316.8 L255.3,316.6 L253.2,316.3 L251.2,316.0 L249.1,315.7 L247.0,315.4 L244.8,315.0 L242.7,314.7 L240.6,314.3 L238.6,313.9 L236.6,313.5 L234.6,313.0 L232.6,312.6 L230.5,312.1 L228.5,311.6 L226.4,311.0 L224.5,310.5 L222.5,309.9 L220.5,309.3 L218.4,308.6 L216.5,307.9 L214.6,307.2 L212.7,306.5 L210.8,305.6 L208.8,304.7 L206.7,303.7 L204.9,302.7 L203.1,301.7 L201.2,300.5 L199.5,299.2 L197.9,298.0 L196.4,296.4 L194.9,294.5 L193.7,292.5 L192.9,290.5 L192.6,288.5 L192.5,288.0" stroke="#c8f519"/>
<path d="M176.0,287.0 L176.4,284.7 L177.3,282.4 L178.5,280.6 L180.0,278.9 L181.8,277.3 L183.6,275.9 L185.5,274.7 L187.5,273.5 L189.3,272.5 L191.4,271.6 L193.4,270.7 L195.4,269.9 L197.4,269.2 L199.5,268.4 L201.5,267.8 L203.4,267.2 L205.5,266.7 L207.6,266.1 L209.7,265.6 L211.9,265.1 L214.0,264.7 L216.0,264.3 L218.1,263.9 L220.2,263.5 L222.3,263.2 L224.4,262.8 L226.6,262.5 L228.6,262.3 L230.6,262.0 L232.7,261.8 L234.7,261.6 L236.8,261.4 L238.9,261.2 L241.0,261.1 L243.1,261.0 L245.2,260.8 L247.3,260.7 L249.4,260.7 L251.6,260.6 L253.7,260.5 L255.9,260.5 L258.0,260.5 L260.1,260.5 L262.2,260.6 L264.3,260.6 L266.4,260.6 L268.5,260.7 L270.6,260.8 L272.7,260.8 L274.8,260.9 L276.9,261.1 L279.0,261.2 L281.1,261.3 L283.2,261.5 L285.2,261.6 L287.3,261.8 L289.3,262.0 L291.4,262.2 L293.4,262.4 L295.4,262.7 L297.4,262.9 L299.5,263.1 L301.6,263.4 L303.7,263.7 L305.8,264.0 L307.9,264.4 L309.9,264.7 L312.0,265.1 L314.0,265.4 L316.0,265.8 L318.0,266.2 L320.0,266.6 L322.0,267.0 L324.0,267.5 L326.1,268.0 L328.1,268.5 L330.2,269.0 L332.1,269.5 L334.1,270.1 L336.0,270.6 L338.0,271.2 L340.0,271.8 L342.1,272.5 L344.0,273.1 L345.9,273.8 L347.8,274.5 L349.7,275.2 L351.6,276.0 L353.5,276.8 L355.5,277.6 L357.4,278.5 L359.4,279.4 L361.2,280.3 L363.0,281.3 L364.8,282.3 L366.6,283.3 L368.4,284.4 L370.2,285.6 L371.9,286.8 L373.7,288.1 L375.2,289.4 L376.8,290.7 L378.3,292.2 L379.8,293.7 L381.2,295.4 L382.6,297.2 L383.7,299.0 L384.8,300.9 L385.7,303.0 L386.3,305.2 L386.8,307.3 L387.0,309.5 L385.8,312.0 L384.0,313.2 L381.9,314.2 L379.8,315.0 L377.5,315.7 L375.3,316.2 L373.3,316.7 L371.2,317.2 L369.0,317.6 L367.0,318.0 L364.9,318.3 L362.6,318.7 L360.5,319.0 L358.4,319.3 L356.3,319.5 L354.1,319.8 L351.9,320.0 L349.9,320.2 L347.8,320.4 L345.6,320.6 L343.5,320.8 L341.5,321.0 L339.5,321.1 L337.4,321.3 L335.4,321.4 L333.3,321.5 L331.2,321.7 L329.0,321.8 L326.9,321.9 L324.7,322.0 L322.5,322.1 L320.5,322.1 L318.5,322.2 L316.5,322.3 L314.4,322.3 L312.4,322.4 L310.3,322.4 L308.3,322.4 L306.2,322.5 L304.1,322.5 L302.1,322.5 L300.0,322.5 L298.0,322.5 L295.9,322.5 L293.9,322.4 L291.9,322.4 L289.9,322.4 L287.9,322.3 L285.8,322.3 L283.8,322.2 L281.8,322.1 L279.8,322.0 L277.8,321.9 L275.8,321.8 L273.7,321.7 L271.6,321.5 L269.5,321.4 L267.4,321.2 L265.3,321.1 L263.2,320.9 L261.2,320.7 L259.1,320.5 L257.1,320.3 L255.1,320.1 L253.1,319.9 L251.0,319.6 L248.9,319.3 L246.7,319.0 L244.6,318.8 L242.6,318.4 L240.6,318.1 L238.5,317.8 L236.4,317.5 L234.3,317.1 L232.2,316.7 L230.1,316.3 L228.1,315.9 L226.0,315.5 L224.0,315.0 L223.5,314.9" stroke="#eeee00"/>
<path d="M183.8,299.3 L182.2,298.0 L180.6,296.6 L179.1,294.8 L177.9,293.0 L176.9,291.1 L176.2,288.7 L176.0,287.0" stroke="#eeee00"/>
<path d="M350.0,229.6 L348.0,229.7 L345.9,229.7 L343.9,229.8 L341.9,229.8 L339.9,229.9 L337.8,229.9 L335.8,230.0 L333.8,230.0 L331.7,230.1 L329.7,230.2 L327.7,230.3 L325.6,230.7 L323.6,231.2 L321.5,231.6 L321.4,232.4 L323.2,233.4 L325.1,234.6 L327.0,235.4 L328.9,236.1 L330.9,236.7 L332.8,237.3 L334.7,238.0 L336.7,238.6 L338.6,239.2 L340.5,239.8 L342.5,240.4 L344.4,241.0 L346.3,241.6 L348.3,242.2 L350.2,242.8 L352.1,243.4 L354.1,244.0 L356.0,244.6 L357.9,245.2 L359.9,245.8 L361.8,246.4 L363.7,247.2 L365.5,248.1 L367.4,248.9 L369.3,249.7 L371.1,250.6 L373.0,251.4 L374.9,252.2 L376.7,253.0 L378.6,253.9 L380.4,254.7 L382.2,255.7 L383.9,256.7 L385.7,257.7 L387.4,258.7 L389.2,259.7 L390.9,260.7 L392.7,261.6 L394.4,262.6 L396.2,263.6 L397.9,264.6 L399.6,265.6 L401.4,266.6 L403.1,267.5 L404.9,268.5 L406.6,269.5 L408.4,270.4 L410.3,271.1 L412.2,271.9 L414.1,272.7 L416.0,273.4 L417.9,274.2 L419.8,274.9 L421.6,275.8 L423.2,277.0 L424.0,277.7" stroke="#ff8200"/>
<path d="M453.6,308.4 L453.7,310.4 L453.7,312.5 L453.8,314.5 L453.9,316.6 L454.0,318.6 L454.0,320.7 L453.9,322.7 L453.0,324.5 L452.0,326.3 L451.1,328.2 L450.2,330.0 L449.3,331.8 L448.1,333.4 L446.3,334.3 L444.5,335.2 L442.7,336.1 L440.8,337.1 L439.0,338.0 L437.2,338.9 L435.4,339.8 L433.4,340.6 L432.0,341.2" stroke="#ff8200"/>
<path d="M350.0,226.4 L347.9,226.5 L345.9,226.5 L343.9,226.6 L341.8,226.7 L339.8,226.7 L337.7,226.8 L335.7,226.8 L333.6,226.9 L331.6,227.1 L329.5,227.3 L327.5,227.5 L325.5,227.8 L323.5,228.0 L321.4,228.2 L319.4,228.4 L317.5,229.1 L315.6,230.2 L313.8,231.2 L313.1,232.8 L313.4,234.8 L313.7,236.9 L314.2,238.9 L315.0,240.8 L315.9,242.7 L316.7,244.6 L317.7,246.4 L319.1,247.8 L320.5,249.2 L322.0,250.7 L323.7,251.7 L325.7,252.3 L327.7,252.9 L329.6,253.5 L331.6,254.1 L333.6,254.7 L335.6,255.1 L337.5,255.6 L339.5,256.0 L341.4,256.5 L343.4,256.9 L345.4,257.3 L347.3,257.8 L349.3,258.2 L351.2,258.7 L353.2,259.1 L355.1,259.7 L357.1,260.2 L359.0,260.7 L361.0,261.2 L362.9,261.8 L364.9,262.3 L366.8,262.8 L368.8,263.4 L370.7,263.9 L372.7,264.4 L374.6,264.9 L376.6,265.5 L378.5,266.0 L380.5,266.6 L382.3,267.5 L384.1,268.4 L385.9,269.2 L387.7,270.1 L389.5,271.0 L391.4,271.9 L393.2,272.7 L395.0,273.6 L396.8,274.5 L398.6,275.3 L400.4,276.3 L402.0,277.6 L403.7,278.8 L405.3,280.1 L406.9,281.3 L408.5,282.6 L410.2,283.8 L411.8,285.1 L413.3,286.4 L414.6,288.0 L416.0,289.6 L417.3,291.2 L418.6,292.8 L419.9,294.4 L421.2,296.0 L421.5,298.0 L421.8,300.0 L422.1,302.0 L422.4,304.0 L422.7,305.9 L423.0,307.9 L423.3,309.9 L423.6,311.9 L423.9,313.9 L423.2,315.8 L422.5,317.7 L421.8,319.6 L421.0,321.6 L420.3,323.5 L419.4,325.2 L417.7,326.3 L416.0,327.5 L414.3,328.6 L412.6,329.8 L410.9,330.9 L409.2,332.1 L407.5,333.2 L405.6,334.0 L403.7,334.8 L401.8,335.5 L400.0,336.3 L398.1,337.1 L396.2,337.9 L394.3,338.6 L392.4,339.4 L390.5,340.2 L388.5,341.0 L388.0,341.2" stroke="#ffa800"/>
<path d="M374.5,231.4 L376.3,232.2 L378.1,233.1 L380.0,233.9 L381.8,234.8 L383.6,235.6 L385.4,236.5 L387.3,237.3 L389.1,238.2 L390.9,239.1 L392.6,240.1 L393.1,240.3" stroke="#ff5800"/>
<path d="M430.4,261.4 L432.1,262.4 L433.9,263.3 L435.6,264.3 L437.4,265.2 L439.2,266.2 L440.9,267.1 L442.7,268.1 L444.5,269.1 L446.2,270.0 L448.0,270.9 L449.8,271.9 L451.6,272.9 L453.3,273.8 L455.1,274.8 L456.9,275.7 L458.6,276.7 L460.4,277.6 L462.2,278.7 L463.9,279.7 L465.7,280.8 L467.5,281.8 L469.3,282.9 L471.0,284.1 L472.4,285.5 L473.8,286.9 L475.3,288.4 L476.7,289.8 L478.1,291.2 L479.6,292.7 L481.0,294.1 L482.4,295.5 L483.9,297.0 L485.3,298.4 L486.7,299.8 L487.7,301.6 L488.5,303.5 L489.3,305.4 L490.1,307.2 L490.9,309.1 L491.7,311.0 L492.5,312.8 L493.3,314.7 L494.1,316.6 L494.9,318.5 L494.9,320.4 L494.2,322.3 L493.4,324.2 L492.6,326.1 L491.9,328.0 L491.1,329.9 L490.4,331.8 L489.4,333.5 L487.6,334.6 L485.8,335.6 L484.1,336.7 L482.3,337.8 L480.6,338.9 L478.8,340.0 L476.9,340.8 L476.0,341.2" stroke="#ff5800"/>
<path d="M432.1,231.1 L433.9,232.1 L435.7,233.1 L437.4,234.1 L439.2,235.0 L441.0,236.0 L442.8,237.0 L444.5,238.0 L446.3,239.0 L448.1,240.0 L449.9,241.0 L451.5,242.1 L453.2,243.2 L454.8,244.3 L456.5,245.5 L458.1,246.6 L459.8,247.7 L461.4,248.9 L463.1,250.0 L464.7,251.2 L466.4,252.3 L467.9,253.7 L469.4,255.1 L470.9,256.5 L472.4,257.9 L474.0,259.2 L475.5,260.6 L477.0,262.0 L478.5,263.4 L479.6,264.4" stroke="#ff2d00"/>
<path d="M509.4,294.9 L510.8,296.4 L512.3,297.6 L514.3,298.0 L516.4,298.4 L518.4,298.8 L520.4,299.2 L522.5,299.6 L524.5,300.0 L526.6,300.3 L528.8,300.6 L530.4,300.8" stroke="#ff2d00"/>
<path d="M487.9,245.7 L489.4,247.2 L490.9,248.6 L492.3,250.0 L493.7,251.5 L495.1,252.9 L496.5,254.4 L497.9,255.8 L499.3,257.3 L500.7,258.7 L502.1,260.2 L503.5,261.7 L505.0,263.2 L506.4,264.7 L507.8,266.2 L509.2,267.7 L510.6,269.2 L511.9,270.8 L513.2,272.4 L514.4,273.9 L515.6,275.5 L516.8,277.1 L518.1,278.7 L519.3,280.3 L520.5,281.8 L521.8,283.4 L523.0,285.0 L524.0,286.8 L525.0,288.6 L526.1,290.4 L527.1,292.2 L528.1,294.0 L529.1,295.8 L530.1,297.6 L530.4,298.0" stroke="#fa0000"/>
<path d="M507.1,218.2 L506.3,219.6" stroke="#da000c"/>
<path d="M511.8,259.1 L512.8,260.9 L513.9,262.6 L515.0,264.4 L516.3,266.0 L517.5,267.5 L518.8,269.1 L520.1,270.7 L521.4,272.2 L522.6,273.8 L523.9,275.3 L525.2,276.9 L526.6,278.4 L528.1,279.8 L529.6,281.3 L530.4,282.0" stroke="#da000c"/>
<path d="M530.4,207.0 L528.8,208.3 L527.2,209.7 L525.6,211.0 L524.0,212.3 L522.4,213.7 L521.8,214.5" stroke="#af0014"/>
<path d="M526.0,250.0 L527.4,251.5 L528.7,253.1 L530.1,254.6 L530.4,255.0" stroke="#af0014"/>
<path d="M530.4,205.0 L529.5,207.0 L528.6,209.0 L528.4,211.0 L528.2,213.0 L528.0,215.0 L528.2,217.0 L528.5,219.0 L529.0,221.0 L530.0,223.0 L530.4,224.0" stroke="#960014"/>
</g>
<g font-family="DejaVu Sans, sans-serif" font-size="12.3" text-anchor="middle">
<text x="0" y="4.45" fill="#af0014" stroke="#af0014" stroke-width="0.65" transform="translate(130.4,177.2) rotate(-90)">0.880</text>
<text x="0" y="4.45" fill="#da000c" stroke="#da000c" stroke-width="0.65" transform="translate(198.2,89.8) rotate(-90)">0.800</text>
<text x="0" y="4.45" fill="#fa0000" stroke="#fa0000" stroke-width="0.65" transform="translate(251.9,120.0) rotate(-88)">0.720</text>
<text x="0" y="4.45" fill="#ff5800" stroke="#ff5800" stroke-width="0.65" transform="translate(336.8,97.0) rotate(-85)">0.560</text>
<text x="0" y="4.45" fill="#ff2d00" stroke="#ff2d00" stroke-width="0.65" transform="translate(207.5,236.0) rotate(-12)">0.640</text>
<text x="0" y="4.45" fill="#ff8200" stroke="#ff8200" stroke-width="0.65" transform="translate(156.8,268.5) rotate(-22)">0.480</text>
<text x="0" y="4.45" fill="#ffa800" stroke="#ffa800" stroke-width="0.65" transform="translate(311.2,214.0) rotate(-20)">0.400</text>
<text x="0" y="4.45" fill="#eeee00" stroke="#eeee00" stroke-width="0.65" transform="translate(203.0,308.7) rotate(22)">0.240</text>
<text x="0" y="4.45" fill="#c8f519" stroke="#c8f519" stroke-width="0.65" transform="translate(295.5,270.5) rotate(8)">0.160</text>
<text x="0" y="4.45" fill="#3ce2a0" stroke="#3ce2a0" stroke-width="0.65" transform="translate(278.5,284.5) rotate(10)">-0.160</text>
<text x="0" y="4.45" fill="#0fd7e6" stroke="#0fd7e6" stroke-width="0.65" transform="translate(285.5,287.5) rotate(10)">-0.240</text>
<text x="0" y="4.45" fill="#5fe86e" stroke="#5fe86e" stroke-width="0.65" transform="translate(250.5,303.3) rotate(13)">-0.080</text>
<text x="0" y="4.45" fill="#a0f53c" stroke="#a0f53c" stroke-width="0.65" transform="translate(253.5,313.0) rotate(12)">0.080</text>
<text x="0" y="4.45" fill="#7dec48" stroke="#7dec48" stroke-width="0.65" transform="translate(337.3,300.5) rotate(90)">0.000</text>
<text x="0" y="4.45" fill="#eeee00" stroke="#eeee00" stroke-width="0.65" transform="translate(369.5,209.0) rotate(-25)">0.240</text>
<text x="0" y="4.45" fill="#fccd00" stroke="#fccd00" stroke-width="0.65" transform="translate(439.3,212.7) rotate(-17)">0.320</text>
<text x="0" y="4.45" fill="#7dec48" stroke="#7dec48" stroke-width="0.65" transform="translate(479.5,188.5) rotate(-28)">0.000</text>
<text x="0" y="4.45" fill="#a0f53c" stroke="#a0f53c" stroke-width="0.65" transform="translate(448.2,152.7) rotate(-60)">0.080</text>
<text x="0" y="4.45" fill="#c8f519" stroke="#c8f519" stroke-width="0.65" transform="translate(451.7,79.5) rotate(-80)">0.160</text>
<text x="0" y="4.45" fill="#5fe86e" stroke="#5fe86e" stroke-width="0.65" transform="translate(492.0,36.5) rotate(-78)">-0.080</text>
<text x="0" y="4.45" fill="#3ce2a0" stroke="#3ce2a0" stroke-width="0.65" transform="translate(487.3,114.0) rotate(-80)">-0.160</text>
<text x="0" y="4.45" fill="#ff5800" stroke="#ff5800" stroke-width="0.65" transform="translate(412.0,250.7) rotate(33)">0.560</text>
<text x="0" y="4.45" fill="#ff8200" stroke="#ff8200" stroke-width="0.65" transform="translate(440.4,291.2) rotate(40)">0.480</text>
<text x="0" y="4.45" fill="#ff2d00" stroke="#ff2d00" stroke-width="0.65" transform="translate(495.2,279.0) rotate(50)">0.640</text>
<text x="0" y="4.45" fill="#fa0000" stroke="#fa0000" stroke-width="0.65" transform="translate(487.6,229.0) rotate(-72)">0.720</text>
<text x="0" y="4.45" fill="#da000c" stroke="#da000c" stroke-width="0.65" transform="translate(505.2,238.7) rotate(77)">0.800</text>
<text x="0" y="4.45" fill="#af0014" stroke="#af0014" stroke-width="0.65" transform="translate(518.6,229.5) rotate(82)">0.880</text>
</g>
<path d="M305.2,153.8 L349.3,117.0 L387.7,71.6 L449.2,48.2 L524.0,22.5 L493.7,85.6 L488.6,137.4" fill="none" stroke="#000" stroke-width="1.6" stroke-dasharray="5.6 2.4"/>
<circle cx="305.2" cy="153.8" r="4.6" fill="#0000ff"/>
<circle cx="349.3" cy="117.0" r="4.6" fill="#000"/>
<circle cx="387.7" cy="71.6" r="4.6" fill="#000"/>
<circle cx="449.2" cy="48.2" r="4.6" fill="#000"/>
<circle cx="524.0" cy="22.5" r="4.6" fill="#000"/>
<circle cx="493.7" cy="85.6" r="4.6" fill="#000"/>
<circle cx="488.6" cy="137.4" r="4.6" fill="#ff0000"/>
<rect x="80.0" y="13.45" width="450.40" height="327.70" fill="none" stroke="#000" stroke-width="1.1"/>
<path d="M80.00,341.15 V345.45 M170.08,341.15 V345.45 M260.16,341.15 V345.45 M350.24,341.15 V345.45 M440.32,341.15 V345.45 M530.40,341.15 V345.45 M80.00,341.15 H75.20 M80.00,294.34 H75.20 M80.00,247.52 H75.20 M80.00,200.71 H75.20 M80.00,153.89 H75.20 M80.00,107.08 H75.20 M80.00,60.26 H75.20 M80.00,13.45 H75.20" stroke="#000" stroke-width="1.1" fill="none"/>
<g font-family="DejaVu Sans, sans-serif" font-size="15.0" fill="#000">
<text x="80.00" y="360.3" text-anchor="middle">0</text>
<text x="170.08" y="360.3" text-anchor="middle">20</text>
<text x="260.16" y="360.3" text-anchor="middle">40</text>
<text x="350.24" y="360.3" text-anchor="middle">60</text>
<text x="440.32" y="360.3" text-anchor="middle">80</text>
<text x="530.40" y="360.3" text-anchor="middle">100</text>
<text x="69.6" y="346.62" text-anchor="end">0</text>
<text x="69.6" y="299.80" text-anchor="end">500</text>
<text x="69.6" y="252.99" text-anchor="end">1000</text>
<text x="69.6" y="206.17" text-anchor="end">1500</text>
<text x="69.6" y="159.36" text-anchor="end">2000</text>
<text x="69.6" y="112.55" text-anchor="end">2500</text>
<text x="69.6" y="65.73" text-anchor="end">3000</text>
<text x="69.6" y="18.92" text-anchor="end">3500</text>
</g>
<text x="305.20" y="378.9" font-family="DejaVu Sans, sans-serif" font-size="15.4" text-anchor="middle">Pressure (bar)</text>
<text transform="translate(23.6,177.30) rotate(-90)" font-family="DejaVu Sans, sans-serif" font-size="15.1" text-anchor="middle">Enthalpy (kJ/kg)</text>
</svg></body></html>
